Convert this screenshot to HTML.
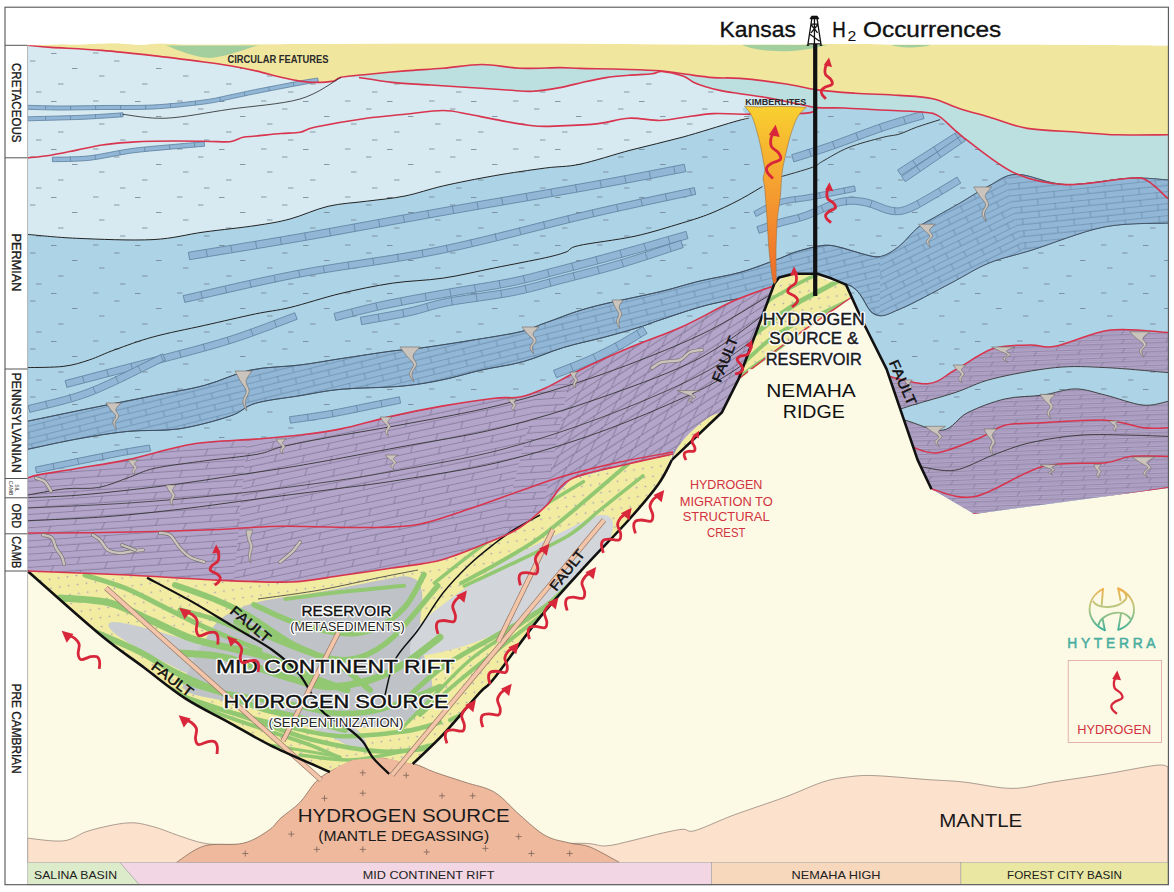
<!DOCTYPE html>
<html><head><meta charset="utf-8"><style>
html,body{margin:0;padding:0;width:1174px;height:892px;overflow:hidden;background:#fff}
text{font-family:"Liberation Sans",sans-serif}
</style></head><body>
<svg width="1174" height="892" viewBox="0 0 1174 892" style="position:absolute;left:0;top:0"><defs><clipPath id="sed"><path d="M27.6,45.3 C30.5,45.2 39.6,45.2 45.0,45.0 C50.4,44.8 54.2,44.3 60.0,44.2 C65.8,44.1 73.3,44.7 80.0,44.6 C86.7,44.5 94.2,43.8 100.0,43.6 C105.8,43.4 108.3,43.1 115.0,43.3 C121.7,43.5 132.5,44.8 140.0,44.8 C147.5,44.8 150.0,43.4 160.0,43.4 C170.0,43.4 176.7,44.5 200.0,44.6 C223.3,44.7 266.7,44.2 300.0,44.0 C333.3,43.8 366.7,43.6 400.0,43.5 C433.3,43.4 466.7,43.6 500.0,43.6 C533.3,43.6 566.7,43.6 600.0,43.8 C633.3,44.0 666.7,44.5 700.0,44.6 C733.3,44.7 775.0,44.5 800.0,44.4 C825.0,44.3 833.3,43.8 850.0,43.8 C866.7,43.8 875.0,44.5 900.0,44.6 C925.0,44.7 966.7,44.4 1000.0,44.5 C1033.3,44.6 1072.0,44.8 1100.0,45.0 C1128.0,45.2 1156.7,45.4 1168.0,45.5 L1168,487.9 L973.7,514 L931.5,489.2 L917.6,459.9 L886.6,369.2 L862.7,321.5 L846,284.6 L831.7,278.6 L817.4,273.8 L793.6,273.8 L779.2,277.4 L774.5,283.4 L760.2,321.5 L738.7,378.8 L722,412.2 L671.9,459.9 L673.0,454.0 L628.0,464.0 L571.0,479.0 L546.0,506.0 L520.0,527.5 L494.0,540.0 L443.0,559.4 L392.0,568.0 L341.0,575.5 L290.0,582.0 L204.0,579.5 L128.0,575.0 L27.6,571.0 Z"/></clipPath><clipPath id="diag"><path d="M27.6,45.3 C30.5,45.2 39.6,45.2 45.0,45.0 C50.4,44.8 54.2,44.3 60.0,44.2 C65.8,44.1 73.3,44.7 80.0,44.6 C86.7,44.5 94.2,43.8 100.0,43.6 C105.8,43.4 108.3,43.1 115.0,43.3 C121.7,43.5 132.5,44.8 140.0,44.8 C147.5,44.8 150.0,43.4 160.0,43.4 C170.0,43.4 176.7,44.5 200.0,44.6 C223.3,44.7 266.7,44.2 300.0,44.0 C333.3,43.8 366.7,43.6 400.0,43.5 C433.3,43.4 466.7,43.6 500.0,43.6 C533.3,43.6 566.7,43.6 600.0,43.8 C633.3,44.0 666.7,44.5 700.0,44.6 C733.3,44.7 775.0,44.5 800.0,44.4 C825.0,44.3 833.3,43.8 850.0,43.8 C866.7,43.8 875.0,44.5 900.0,44.6 C925.0,44.7 966.7,44.4 1000.0,44.5 C1033.3,44.6 1072.0,44.8 1100.0,45.0 C1128.0,45.2 1156.7,45.4 1168.0,45.5 L1168,862.5 L27.6,862.5 Z"/></clipPath></defs><rect x="0" y="0" width="1174" height="892" fill="#fff"/><g clip-path="url(#diag)"><rect x="27.6" y="40" width="1141" height="823" fill="#fcf9e5"/><path d="M27.6,838.2 C33.6,838.6 53.6,842.1 63.9,840.8 C74.2,839.5 78.8,833.6 89.4,830.6 C100.1,827.6 117.1,823.5 127.8,822.9 C138.4,822.2 144.8,824.6 153.3,826.7 C161.8,828.8 170.4,832.9 178.9,835.7 C187.4,838.5 195.9,841.8 204.4,843.3 C212.9,844.8 214.1,844.1 230.0,844.6 C245.9,845.1 271.7,845.8 300.0,846.0 C328.3,846.2 366.7,846.0 400.0,846.0 C433.3,846.0 470.0,846.5 500.0,846.0 C530.0,845.5 562.4,843.3 580.0,843.3 C597.6,843.3 597.1,846.3 605.6,845.9 C614.1,845.5 622.6,842.7 631.1,840.8 C639.6,838.9 648.2,836.3 656.7,834.4 C665.2,832.5 675.8,829.9 682.2,829.3 C688.6,828.7 686.5,833.0 695.0,830.6 C703.5,828.2 718.4,820.8 733.3,815.2 C748.2,809.7 769.6,802.8 784.5,797.3 C799.4,791.8 812.2,785.4 822.8,782.0 C833.4,778.6 839.8,778.0 848.3,776.9 C856.8,775.8 861.2,775.2 874.0,775.6 C886.8,776.0 910.2,778.3 925.1,779.4 C940.0,780.5 948.9,780.5 963.4,782.0 C977.9,783.5 997.1,788.4 1012.0,788.4 C1026.9,788.4 1037.6,784.4 1052.9,782.0 C1068.2,779.6 1087.0,777.1 1104.0,774.3 C1121.0,771.5 1144.4,766.7 1155.1,765.4 C1165.8,764.1 1165.8,766.5 1168.0,766.7 L1168.0,900 L27.6,900 Z" fill="#fce1cc" stroke="#8a7a70" stroke-width="0.7"/><path d="M176.3,862.5 C181.0,859.7 193.3,849.1 204.4,845.9 C215.5,842.7 232.2,845.8 242.8,843.3 C253.5,840.8 261.9,834.9 268.3,830.6 C274.7,826.4 275.8,822.5 281.1,817.8 C286.4,813.1 294.2,808.4 300.0,802.4 C305.8,796.4 310.3,787.4 315.6,782.0 C320.9,776.6 325.9,773.7 332.0,770.0 C338.1,766.3 343.9,761.8 352.4,759.7 C360.9,757.7 372.9,757.0 383.1,757.7 C393.3,758.4 405.3,761.4 413.8,763.8 C422.3,766.2 425.7,768.9 434.2,772.0 C442.7,775.1 454.8,778.8 464.9,782.2 C474.9,785.6 485.3,786.7 494.5,792.2 C503.7,797.7 511.5,808.0 520.0,815.2 C528.5,822.5 537.1,831.0 545.6,835.7 C554.1,840.4 563.7,841.4 571.1,843.3 C578.5,845.2 581.9,843.8 590.0,847.0 C598.1,850.2 614.7,859.9 619.6,862.5 Z" fill="#eeb99d" stroke="#7a6050" stroke-width="0.7"/><g clip-path="url(#sed)"><rect x="27" y="30" width="1142" height="600" fill="#f0e69e"/><path d="M27.6,45.3 C31.5,45.6 38.6,46.5 51.0,47.4 C63.4,48.2 85.0,49.0 102.0,50.4 C119.0,51.8 136.0,53.7 153.0,55.6 C170.0,57.5 191.2,60.3 204.0,62.0 C216.8,63.7 221.3,64.3 230.0,65.8 C238.7,67.3 247.5,69.0 256.0,70.9 C264.5,72.8 273.7,75.6 281.0,77.3 C288.3,79.0 294.2,80.2 300.0,81.1 C305.8,81.9 310.0,82.4 315.6,82.4 C321.2,82.4 329.2,81.9 333.4,81.1 C337.6,80.2 335.9,78.4 341.0,77.3 C346.1,76.2 353.3,75.8 364.0,74.7 C374.7,73.6 391.8,72.0 405.0,70.9 C418.2,69.8 430.2,69.4 443.0,68.3 C455.8,67.2 469.2,64.5 482.0,64.5 C494.8,64.5 507.0,67.8 520.0,68.3 C533.0,68.8 550.0,67.6 560.0,67.6 C570.0,67.6 569.8,68.1 580.0,68.4 C590.2,68.7 607.7,68.8 621.0,69.2 C634.3,69.6 649.7,69.9 660.0,70.7 C670.3,71.5 674.2,72.7 683.0,73.8 C691.8,74.9 703.5,76.8 713.0,77.6 C722.5,78.4 728.1,77.4 740.0,78.4 C751.9,79.4 771.7,81.8 784.5,83.7 C797.3,85.6 805.2,88.3 817.0,89.9 C828.8,91.5 841.3,92.3 855.0,93.2 C868.7,94.1 886.1,94.5 899.0,95.4 C911.9,96.3 922.4,96.5 932.6,98.7 C942.8,100.9 950.6,105.7 960.0,108.7 C969.4,111.7 977.8,113.6 989.0,116.9 C1000.2,120.2 1012.4,125.9 1027.3,128.4 C1042.2,130.9 1063.5,131.1 1078.4,132.2 C1093.3,133.3 1101.9,134.4 1116.8,134.8 C1131.7,135.2 1159.5,134.8 1168.0,134.8 L1168.0,900 L27.6,900 Z" fill="#bcdfe0"/><path d="M27.6,45.5 C31.5,45.9 38.6,46.8 51.0,47.6 C63.4,48.5 85.0,49.2 102.0,50.6 C119.0,52.0 136.0,53.9 153.0,55.8 C170.0,57.7 191.2,60.5 204.0,62.2 C216.8,63.9 221.3,64.5 230.0,66.0 C238.7,67.5 247.5,69.2 256.0,71.1 C264.5,73.0 273.7,75.8 281.0,77.5 C288.3,79.2 294.2,80.5 300.0,81.3 C305.8,82.1 310.0,82.6 315.6,82.6 C321.2,82.6 329.2,82.1 333.4,81.3 C337.6,80.5 336.7,78.1 341.0,77.5 C345.3,76.9 350.5,76.7 359.0,77.5 C367.5,78.3 380.1,81.2 392.0,82.4 C403.9,83.7 417.7,84.2 430.5,85.0 C443.3,85.8 456.2,86.7 469.0,87.5 C481.8,88.3 496.3,89.4 507.0,90.0 C517.7,90.6 524.2,91.7 533.0,91.3 C541.8,90.9 551.7,89.1 560.0,87.6 C568.3,86.1 575.3,83.9 583.0,82.2 C590.7,80.5 598.3,78.8 606.0,77.6 C613.7,76.4 621.3,75.9 629.0,75.3 C636.7,74.7 646.5,74.4 652.0,73.8 C657.5,73.2 656.8,71.1 662.0,71.5 C667.2,71.9 677.8,74.3 683.0,76.1 C688.2,77.9 689.6,80.4 693.4,82.2 C697.2,84.0 701.1,85.4 705.7,86.8 C710.3,88.2 715.3,89.4 721.0,90.6 C726.7,91.8 732.4,92.5 740.0,93.7 C747.6,94.9 756.4,95.8 766.4,97.6 C776.4,99.4 791.2,102.6 799.7,104.3 C808.2,106.0 810.0,107.0 817.4,107.6 C824.8,108.2 834.1,107.6 844.0,108.0 C853.9,108.4 864.1,109.1 877.0,109.8 C889.9,110.5 911.1,110.9 921.5,112.0 C931.9,113.1 932.2,112.2 939.2,116.4 C946.2,120.6 950.8,127.9 963.4,137.3 C976.0,146.8 997.5,165.2 1014.6,173.1 C1031.7,181.0 1046.5,183.8 1065.7,184.6 C1084.9,185.4 1116.0,178.8 1129.6,178.2 C1143.2,177.6 1141.0,177.4 1147.4,180.8 C1153.8,184.2 1164.6,195.7 1168.0,198.7 L1168.0,900 L27.6,900 Z" fill="#d7eaf2"/></g></g><defs><pattern id="brick" patternUnits="userSpaceOnUse" width="34" height="12" patternTransform="rotate(-14)"><rect width="34" height="12" fill="#92b6d6"/><path d="M0,0.3H34 M0,6.3H34 M8,0V6 M25,6V12" stroke="#5d7f9e" stroke-width="0.6" fill="none"/></pattern><pattern id="brickR" patternUnits="userSpaceOnUse" width="34" height="12" patternTransform="rotate(-26)"><rect width="34" height="12" fill="#92b6d6"/><path d="M0,0.3H34 M0,6.3H34 M8,0V6 M25,6V12" stroke="#5d7f9e" stroke-width="0.6" fill="none"/></pattern><pattern id="pbrickA" patternUnits="userSpaceOnUse" width="54" height="13.2" patternTransform="rotate(-4)"><rect width="54" height="13.2" fill="#b3a5c9"/><path d="M0,0.3H54 M0,6.8999999999999995H54 M14,0.3L10.5,6.8999999999999995 M41.0,6.8999999999999995L37.5,13.5" stroke="#6b6180" stroke-width="0.6" fill="none"/></pattern><pattern id="pbrickB" patternUnits="userSpaceOnUse" width="54" height="13.2" patternTransform="rotate(-12)"><rect width="54" height="13.2" fill="#b3a5c9"/><path d="M0,0.3H54 M0,6.8999999999999995H54 M14,0.3L10.5,6.8999999999999995 M41.0,6.8999999999999995L37.5,13.5" stroke="#6b6180" stroke-width="0.6" fill="none"/></pattern><pattern id="pbrickC" patternUnits="userSpaceOnUse" width="26" height="14" patternTransform="rotate(-33)"><rect width="26" height="14" fill="#b3a5c9"/><path d="M0,0.3H26 M0,7.3H26 M2,7.3L13.2,0.3 M15,14.3L26.2,7.3 M-11,14.3L0.2,7.3" stroke="#5f5672" stroke-width="0.55" fill="none"/></pattern><pattern id="pbrickH" patternUnits="userSpaceOnUse" width="44" height="9" patternTransform="rotate(-2)"><rect width="44" height="9" fill="#b3a5c9"/><path d="M0,0.3H44 M0,4.8H44" stroke="#6b6180" stroke-width="0.55" fill="none"/><path d="M0,2.55H44 M0,7.05H44" stroke="#8a80a0" stroke-width="0.4" fill="none"/><path d="M12,0.3L9,4.8 M34,4.8L31,9.3" stroke="#6b6180" stroke-width="0.55" fill="none"/></pattern><pattern id="dots" patternUnits="userSpaceOnUse" width="9" height="9" patternTransform="rotate(-8)"><rect width="9" height="9" fill="#f1eca2"/><circle cx="4.5" cy="4.5" r="0.85" fill="#a39db8"/></pattern><pattern id="dash" patternUnits="userSpaceOnUse" width="84" height="48" patternTransform="translate(3,1)"><path d="M6,4h5.5M48,4.5h5.5M27,12h5.5M69,19.5h5.5M12,27h5.5M55,35h5.5M33,43h5.5" stroke="#6d7d8a" stroke-width="0.95" opacity="0.8"/></pattern><linearGradient id="kimb" x1="0" y1="0" x2="0" y2="1"><stop offset="0" stop-color="#f8d030"/><stop offset="0.45" stop-color="#f5a030"/><stop offset="1" stop-color="#ee6a2a"/></linearGradient><linearGradient id="greyg" x1="0" y1="0" x2="1" y2="1"><stop offset="0" stop-color="#d8dce0"/><stop offset="1" stop-color="#b9bcc0"/></linearGradient><clipPath id="zB"><path d="M260,300 L560,300 L480,620 L230,620 Z"/></clipPath><clipPath id="zC"><path d="M590,280 L800,280 L700,620 L520,620 Z"/></clipPath><clipPath id="zR1"><path d="M880,150 L1000,150 L1040,330 L880,330 Z"/></clipPath><clipPath id="zR2"><path d="M1000,150 L1170,150 L1170,330 L1040,330 Z"/></clipPath><pattern id="brickR2" patternUnits="userSpaceOnUse" width="34" height="12" patternTransform="rotate(-6)"><rect width="34" height="12" fill="#92b6d6"/><path d="M0,0.3H34 M0,6.3H34 M8,0V6 M25,6V12" stroke="#5d7f9e" stroke-width="0.6" fill="none"/></pattern></defs><g clip-path="url(#diag)"><g clip-path="url(#sed)"><path d="M27.6,234.4 C35.8,235.1 55.8,237.4 76.7,238.3 C97.6,239.2 131.8,240.7 153.0,239.6 C174.2,238.5 186.8,234.3 204.0,232.0 C221.2,229.7 241.7,227.7 256.0,225.5 C270.3,223.3 278.0,222.2 290.0,219.0 C302.0,215.8 315.2,209.3 328.0,206.3 C340.8,203.3 353.9,202.9 366.7,201.2 C379.5,199.5 392.2,198.6 405.0,196.0 C417.8,193.4 428.4,189.3 443.3,185.9 C458.2,182.5 477.4,178.7 494.5,175.7 C511.6,172.7 531.4,169.9 545.6,168.0 C559.9,166.1 565.8,167.2 580.0,164.2 C594.2,161.2 614.0,154.5 631.0,150.0 C648.0,145.5 665.0,142.0 682.0,137.3 C699.0,132.6 722.2,125.2 733.3,122.0 C744.4,118.8 746.6,120.7 748.7,118.2 C750.8,115.7 736.5,108.9 746.0,107.0 C755.5,105.1 794.1,106.9 806.0,107.0 C817.9,107.1 811.1,107.4 817.4,107.6 C823.7,107.8 834.1,107.6 844.0,108.0 C853.9,108.4 864.1,109.1 877.0,109.8 C889.9,110.5 911.1,110.9 921.5,112.0 C931.9,113.1 932.2,112.2 939.2,116.4 C946.2,120.6 950.8,127.9 963.4,137.3 C976.0,146.8 997.5,165.2 1014.6,173.1 C1031.7,181.0 1046.5,183.8 1065.7,184.6 C1084.9,185.4 1116.0,178.8 1129.6,178.2 C1143.2,177.6 1141.0,177.4 1147.4,180.8 C1153.8,184.2 1164.6,195.7 1168.0,198.7 L1168.0,900 L27.6,900 Z" fill="#add3e6"/><path d="M27.6,45.5 C31.5,45.9 38.6,46.8 51.0,47.6 C63.4,48.5 85.0,49.2 102.0,50.6 C119.0,52.0 136.0,53.9 153.0,55.8 C170.0,57.7 191.2,60.5 204.0,62.2 C216.8,63.9 221.3,64.5 230.0,66.0 C238.7,67.5 247.5,69.2 256.0,71.1 C264.5,73.0 273.7,75.8 281.0,77.5 C288.3,79.2 294.2,80.5 300.0,81.3 C305.8,82.1 310.0,82.6 315.6,82.6 C321.2,82.6 329.2,82.1 333.4,81.3 C337.6,80.5 336.7,78.1 341.0,77.5 C345.3,76.9 350.5,76.7 359.0,77.5 C367.5,78.3 380.1,81.2 392.0,82.4 C403.9,83.7 417.7,84.2 430.5,85.0 C443.3,85.8 456.2,86.7 469.0,87.5 C481.8,88.3 496.3,89.4 507.0,90.0 C517.7,90.6 524.2,91.7 533.0,91.3 C541.8,90.9 551.7,89.1 560.0,87.6 C568.3,86.1 575.3,83.9 583.0,82.2 C590.7,80.5 598.3,78.8 606.0,77.6 C613.7,76.4 621.3,75.9 629.0,75.3 C636.7,74.7 646.5,74.4 652.0,73.8 C657.5,73.2 656.8,71.1 662.0,71.5 C667.2,71.9 677.8,74.3 683.0,76.1 C688.2,77.9 689.6,80.4 693.4,82.2 C697.2,84.0 701.1,85.4 705.7,86.8 C710.3,88.2 715.3,89.4 721.0,90.6 C726.7,91.8 732.4,92.5 740.0,93.7 C747.6,94.9 756.4,95.8 766.4,97.6 C776.4,99.4 791.2,102.6 799.7,104.3 C808.2,106.0 810.0,107.0 817.4,107.6 C824.8,108.2 834.1,107.6 844.0,108.0 C853.9,108.4 864.1,109.1 877.0,109.8 C889.9,110.5 911.1,110.9 921.5,112.0 C931.9,113.1 932.2,112.2 939.2,116.4 C946.2,120.6 950.8,127.9 963.4,137.3 C976.0,146.8 997.5,165.2 1014.6,173.1 C1031.7,181.0 1046.5,183.8 1065.7,184.6 C1084.9,185.4 1116.0,178.8 1129.6,178.2 C1143.2,177.6 1141.0,177.4 1147.4,180.8 C1153.8,184.2 1164.6,195.7 1168.0,198.7 L1168.0,900 L27.6,900 Z" fill="url(#dash)"/><path d="M166,45.5 L258,45.5 C242,50 226,57 210,58 C194,57 180,51 166,45.5 Z" fill="#a3cf9e"/><path d="M742,44.5 C752,51 790,55.5 827,45 Z" fill="#a3cf9e"/><path d="M890.8,44.8 C900,48.5 920,48.5 931.7,44.8 Z" fill="#a3cf9e"/><path d="M27.6,421.2 C35.8,419.5 62.1,414.0 76.7,411.0 C91.3,408.0 102.2,405.9 115.0,403.3 C127.8,400.8 138.4,398.7 153.3,395.7 C168.2,392.7 188.2,389.7 204.4,385.4 C220.6,381.1 234.5,373.5 250.4,370.1 C266.3,366.7 284.9,366.9 300.0,365.0 C315.1,363.1 325.6,360.9 341.0,358.6 C356.4,356.3 379.4,352.7 392.2,351.0 C405.0,349.3 405.0,350.1 417.8,348.4 C430.6,346.7 451.9,343.5 468.9,340.7 C485.9,337.9 507.2,334.8 520.0,331.8 C532.8,328.8 533.9,326.9 545.6,322.8 C557.3,318.8 570.9,312.7 590.0,307.5 C609.1,302.3 641.7,296.1 660.0,291.7 C678.3,287.3 686.7,284.2 700.0,281.0 C713.3,277.8 727.1,276.0 740.0,272.4 C752.9,268.8 768.1,262.7 777.5,259.3 C786.9,255.9 788.4,254.1 796.2,251.8 C804.0,249.5 816.5,245.9 824.3,245.3 C832.1,244.7 836.9,246.7 843.1,248.1 C849.4,249.5 855.5,252.3 861.8,253.7 C868.0,255.1 874.4,257.8 880.6,256.5 C886.9,255.2 893.1,251.0 899.3,246.2 C905.5,241.4 911.8,232.5 918.0,227.5 C924.2,222.5 929.8,220.3 936.8,216.2 C943.8,212.1 951.3,208.1 960.0,203.1 C968.7,198.1 979.5,190.7 989.0,185.9 C998.5,181.1 1004.2,174.6 1017.0,174.4 C1029.8,174.2 1046.9,184.0 1065.7,184.6 C1084.5,185.2 1112.5,179.0 1129.6,178.2 C1146.6,177.4 1161.6,179.7 1168.0,180.0 L1168.0,223.0 C1157.3,223.7 1126.7,222.5 1104.0,227.0 C1081.3,231.5 1051.2,244.0 1032.0,250.0 C1012.8,256.0 1002.5,257.5 989.0,263.0 C975.5,268.5 965.8,275.3 951.0,283.0 C936.2,290.7 912.8,303.8 900.0,309.0 C887.2,314.2 883.0,318.2 874.0,314.0 C865.0,309.8 863.0,288.3 846.0,284.0 C829.0,279.7 787.1,286.3 772.0,288.2 C756.9,290.1 766.1,292.5 755.4,295.3 C744.7,298.1 723.6,300.8 707.7,304.9 C691.8,309.0 671.3,316.3 660.0,320.0 C648.7,323.7 649.3,324.1 640.0,327.0 C630.7,329.9 617.1,333.8 604.4,337.2 C591.6,340.6 577.1,343.4 563.5,347.5 C549.9,351.6 536.2,358.1 522.6,361.8 C509.0,365.6 495.4,366.9 481.8,370.0 C468.2,373.1 454.5,377.5 440.9,380.2 C427.3,382.9 416.6,384.8 400.0,386.3 C383.4,387.8 357.7,387.7 341.0,389.3 C324.3,390.9 314.2,393.4 300.0,395.7 C285.8,398.0 267.2,399.9 255.5,403.3 C243.8,406.7 242.8,411.8 230.0,416.1 C217.2,420.4 195.9,426.3 178.9,428.9 C161.9,431.4 144.8,429.7 127.8,431.4 C110.8,433.1 93.4,436.1 76.7,439.1 C60.0,442.1 35.8,447.6 27.6,449.3 Z" fill="url(#brick)" stroke="#3a4a5a" stroke-width="0.8"/><path d="M27.6,421.2 C35.8,419.5 62.1,414.0 76.7,411.0 C91.3,408.0 102.2,405.9 115.0,403.3 C127.8,400.8 138.4,398.7 153.3,395.7 C168.2,392.7 188.2,389.7 204.4,385.4 C220.6,381.1 234.5,373.5 250.4,370.1 C266.3,366.7 284.9,366.9 300.0,365.0 C315.1,363.1 325.6,360.9 341.0,358.6 C356.4,356.3 379.4,352.7 392.2,351.0 C405.0,349.3 405.0,350.1 417.8,348.4 C430.6,346.7 451.9,343.5 468.9,340.7 C485.9,337.9 507.2,334.8 520.0,331.8 C532.8,328.8 533.9,326.9 545.6,322.8 C557.3,318.8 570.9,312.7 590.0,307.5 C609.1,302.3 641.7,296.1 660.0,291.7 C678.3,287.3 686.7,284.2 700.0,281.0 C713.3,277.8 727.1,276.0 740.0,272.4 C752.9,268.8 768.1,262.7 777.5,259.3 C786.9,255.9 788.4,254.1 796.2,251.8 C804.0,249.5 816.5,245.9 824.3,245.3 C832.1,244.7 836.9,246.7 843.1,248.1 C849.4,249.5 855.5,252.3 861.8,253.7 C868.0,255.1 874.4,257.8 880.6,256.5 C886.9,255.2 893.1,251.0 899.3,246.2 C905.5,241.4 911.8,232.5 918.0,227.5 C924.2,222.5 929.8,220.3 936.8,216.2 C943.8,212.1 951.3,208.1 960.0,203.1 C968.7,198.1 979.5,190.7 989.0,185.9 C998.5,181.1 1004.2,174.6 1017.0,174.4 C1029.8,174.2 1046.9,184.0 1065.7,184.6 C1084.5,185.2 1112.5,179.0 1129.6,178.2 C1146.6,177.4 1161.6,179.7 1168.0,180.0 L1168.0,223.0 C1157.3,223.7 1126.7,222.5 1104.0,227.0 C1081.3,231.5 1051.2,244.0 1032.0,250.0 C1012.8,256.0 1002.5,257.5 989.0,263.0 C975.5,268.5 965.8,275.3 951.0,283.0 C936.2,290.7 912.8,303.8 900.0,309.0 C887.2,314.2 883.0,318.2 874.0,314.0 C865.0,309.8 863.0,288.3 846.0,284.0 C829.0,279.7 787.1,286.3 772.0,288.2 C756.9,290.1 766.1,292.5 755.4,295.3 C744.7,298.1 723.6,300.8 707.7,304.9 C691.8,309.0 671.3,316.3 660.0,320.0 C648.7,323.7 649.3,324.1 640.0,327.0 C630.7,329.9 617.1,333.8 604.4,337.2 C591.6,340.6 577.1,343.4 563.5,347.5 C549.9,351.6 536.2,358.1 522.6,361.8 C509.0,365.6 495.4,366.9 481.8,370.0 C468.2,373.1 454.5,377.5 440.9,380.2 C427.3,382.9 416.6,384.8 400.0,386.3 C383.4,387.8 357.7,387.7 341.0,389.3 C324.3,390.9 314.2,393.4 300.0,395.7 C285.8,398.0 267.2,399.9 255.5,403.3 C243.8,406.7 242.8,411.8 230.0,416.1 C217.2,420.4 195.9,426.3 178.9,428.9 C161.9,431.4 144.8,429.7 127.8,431.4 C110.8,433.1 93.4,436.1 76.7,439.1 C60.0,442.1 35.8,447.6 27.6,449.3 Z" fill="url(#brickR)" clip-path="url(#zR1)"/><path d="M27.6,421.2 C35.8,419.5 62.1,414.0 76.7,411.0 C91.3,408.0 102.2,405.9 115.0,403.3 C127.8,400.8 138.4,398.7 153.3,395.7 C168.2,392.7 188.2,389.7 204.4,385.4 C220.6,381.1 234.5,373.5 250.4,370.1 C266.3,366.7 284.9,366.9 300.0,365.0 C315.1,363.1 325.6,360.9 341.0,358.6 C356.4,356.3 379.4,352.7 392.2,351.0 C405.0,349.3 405.0,350.1 417.8,348.4 C430.6,346.7 451.9,343.5 468.9,340.7 C485.9,337.9 507.2,334.8 520.0,331.8 C532.8,328.8 533.9,326.9 545.6,322.8 C557.3,318.8 570.9,312.7 590.0,307.5 C609.1,302.3 641.7,296.1 660.0,291.7 C678.3,287.3 686.7,284.2 700.0,281.0 C713.3,277.8 727.1,276.0 740.0,272.4 C752.9,268.8 768.1,262.7 777.5,259.3 C786.9,255.9 788.4,254.1 796.2,251.8 C804.0,249.5 816.5,245.9 824.3,245.3 C832.1,244.7 836.9,246.7 843.1,248.1 C849.4,249.5 855.5,252.3 861.8,253.7 C868.0,255.1 874.4,257.8 880.6,256.5 C886.9,255.2 893.1,251.0 899.3,246.2 C905.5,241.4 911.8,232.5 918.0,227.5 C924.2,222.5 929.8,220.3 936.8,216.2 C943.8,212.1 951.3,208.1 960.0,203.1 C968.7,198.1 979.5,190.7 989.0,185.9 C998.5,181.1 1004.2,174.6 1017.0,174.4 C1029.8,174.2 1046.9,184.0 1065.7,184.6 C1084.5,185.2 1112.5,179.0 1129.6,178.2 C1146.6,177.4 1161.6,179.7 1168.0,180.0 L1168.0,223.0 C1157.3,223.7 1126.7,222.5 1104.0,227.0 C1081.3,231.5 1051.2,244.0 1032.0,250.0 C1012.8,256.0 1002.5,257.5 989.0,263.0 C975.5,268.5 965.8,275.3 951.0,283.0 C936.2,290.7 912.8,303.8 900.0,309.0 C887.2,314.2 883.0,318.2 874.0,314.0 C865.0,309.8 863.0,288.3 846.0,284.0 C829.0,279.7 787.1,286.3 772.0,288.2 C756.9,290.1 766.1,292.5 755.4,295.3 C744.7,298.1 723.6,300.8 707.7,304.9 C691.8,309.0 671.3,316.3 660.0,320.0 C648.7,323.7 649.3,324.1 640.0,327.0 C630.7,329.9 617.1,333.8 604.4,337.2 C591.6,340.6 577.1,343.4 563.5,347.5 C549.9,351.6 536.2,358.1 522.6,361.8 C509.0,365.6 495.4,366.9 481.8,370.0 C468.2,373.1 454.5,377.5 440.9,380.2 C427.3,382.9 416.6,384.8 400.0,386.3 C383.4,387.8 357.7,387.7 341.0,389.3 C324.3,390.9 314.2,393.4 300.0,395.7 C285.8,398.0 267.2,399.9 255.5,403.3 C243.8,406.7 242.8,411.8 230.0,416.1 C217.2,420.4 195.9,426.3 178.9,428.9 C161.9,431.4 144.8,429.7 127.8,431.4 C110.8,433.1 93.4,436.1 76.7,439.1 C60.0,442.1 35.8,447.6 27.6,449.3 Z" fill="url(#brickR2)" clip-path="url(#zR2)"/><path d="M27.6,421.2 C35.8,419.5 62.1,414.0 76.7,411.0 C91.3,408.0 102.2,405.9 115.0,403.3 C127.8,400.8 138.4,398.7 153.3,395.7 C168.2,392.7 188.2,389.7 204.4,385.4 C220.6,381.1 234.5,373.5 250.4,370.1 C266.3,366.7 284.9,366.9 300.0,365.0 C315.1,363.1 325.6,360.9 341.0,358.6 C356.4,356.3 379.4,352.7 392.2,351.0 C405.0,349.3 405.0,350.1 417.8,348.4 C430.6,346.7 451.9,343.5 468.9,340.7 C485.9,337.9 507.2,334.8 520.0,331.8 C532.8,328.8 533.9,326.9 545.6,322.8 C557.3,318.8 570.9,312.7 590.0,307.5 C609.1,302.3 641.7,296.1 660.0,291.7 C678.3,287.3 686.7,284.2 700.0,281.0 C713.3,277.8 727.1,276.0 740.0,272.4 C752.9,268.8 768.1,262.7 777.5,259.3 C786.9,255.9 788.4,254.1 796.2,251.8 C804.0,249.5 816.5,245.9 824.3,245.3 C832.1,244.7 836.9,246.7 843.1,248.1 C849.4,249.5 855.5,252.3 861.8,253.7 C868.0,255.1 874.4,257.8 880.6,256.5 C886.9,255.2 893.1,251.0 899.3,246.2 C905.5,241.4 911.8,232.5 918.0,227.5 C924.2,222.5 929.8,220.3 936.8,216.2 C943.8,212.1 951.3,208.1 960.0,203.1 C968.7,198.1 979.5,190.7 989.0,185.9 C998.5,181.1 1004.2,174.6 1017.0,174.4 C1029.8,174.2 1046.9,184.0 1065.7,184.6 C1084.5,185.2 1112.5,179.0 1129.6,178.2 C1146.6,177.4 1161.6,179.7 1168.0,180.0" fill="none" stroke="#3a4a5a" stroke-width="0.8"/><path d="M27.6,449.3 C35.8,447.6 60.0,442.1 76.7,439.1 C93.4,436.1 110.8,433.1 127.8,431.4 C144.8,429.7 161.9,431.4 178.9,428.9 C195.9,426.3 217.2,420.4 230.0,416.1 C242.8,411.8 243.8,406.7 255.5,403.3 C267.2,399.9 285.8,398.0 300.0,395.7 C314.2,393.4 324.3,390.9 341.0,389.3 C357.7,387.7 383.4,387.8 400.0,386.3 C416.6,384.8 427.3,382.9 440.9,380.2 C454.5,377.5 468.2,373.1 481.8,370.0 C495.4,366.9 509.0,365.6 522.6,361.8 C536.2,358.1 549.9,351.6 563.5,347.5 C577.1,343.4 591.6,340.6 604.4,337.2 C617.1,333.8 630.7,329.9 640.0,327.0 C649.3,324.1 648.7,323.7 660.0,320.0 C671.3,316.3 691.8,309.0 707.7,304.9 C723.6,300.8 744.7,298.1 755.4,295.3 C766.1,292.5 756.9,290.1 772.0,288.2 C787.1,286.3 829.0,279.7 846.0,284.0 C863.0,288.3 865.0,309.8 874.0,314.0 C883.0,318.2 887.2,314.2 900.0,309.0 C912.8,303.8 936.2,290.7 951.0,283.0 C965.8,275.3 975.5,268.5 989.0,263.0 C1002.5,257.5 1012.8,256.0 1032.0,250.0 C1051.2,244.0 1081.3,231.5 1104.0,227.0 C1126.7,222.5 1157.3,223.7 1168.0,223.0" fill="none" stroke="#3a4a5a" stroke-width="0.8"/><path d="M27.6,478.0 C29.4,477.5 30.1,476.5 38.3,474.9 C46.5,473.3 61.8,471.1 76.7,468.5 C91.6,465.9 108.6,463.7 127.8,459.6 C147.0,455.6 170.4,447.6 191.7,444.2 C213.0,440.8 237.4,440.6 255.5,439.1 C273.6,437.6 285.8,436.7 300.0,435.0 C314.2,433.3 325.6,432.0 341.0,428.9 C356.4,425.8 375.1,419.9 392.2,416.1 C409.2,412.3 426.2,408.9 443.3,405.9 C460.4,402.9 481.7,399.7 494.5,398.2 C507.3,396.7 511.5,398.7 520.0,397.0 C528.5,395.3 535.6,392.5 545.6,388.0 C555.6,383.5 565.8,376.8 580.0,370.0 C594.2,363.2 614.0,354.3 631.0,347.1 C648.0,339.9 665.2,334.4 682.2,326.7 C699.2,319.0 718.0,307.9 733.3,301.1 C748.6,294.3 767.4,288.4 774.2,285.8 L774.2,900 L27.6,900 Z" fill="url(#pbrickA)"/><path d="M27.6,478.0 C29.4,477.5 30.1,476.5 38.3,474.9 C46.5,473.3 61.8,471.1 76.7,468.5 C91.6,465.9 108.6,463.7 127.8,459.6 C147.0,455.6 170.4,447.6 191.7,444.2 C213.0,440.8 237.4,440.6 255.5,439.1 C273.6,437.6 285.8,436.7 300.0,435.0 C314.2,433.3 325.6,432.0 341.0,428.9 C356.4,425.8 375.1,419.9 392.2,416.1 C409.2,412.3 426.2,408.9 443.3,405.9 C460.4,402.9 481.7,399.7 494.5,398.2 C507.3,396.7 511.5,398.7 520.0,397.0 C528.5,395.3 535.6,392.5 545.6,388.0 C555.6,383.5 565.8,376.8 580.0,370.0 C594.2,363.2 614.0,354.3 631.0,347.1 C648.0,339.9 665.2,334.4 682.2,326.7 C699.2,319.0 718.0,307.9 733.3,301.1 C748.6,294.3 767.4,288.4 774.2,285.8 L774.2,900 L27.6,900 Z" fill="url(#pbrickB)" clip-path="url(#zB)"/><path d="M27.6,478.0 C29.4,477.5 30.1,476.5 38.3,474.9 C46.5,473.3 61.8,471.1 76.7,468.5 C91.6,465.9 108.6,463.7 127.8,459.6 C147.0,455.6 170.4,447.6 191.7,444.2 C213.0,440.8 237.4,440.6 255.5,439.1 C273.6,437.6 285.8,436.7 300.0,435.0 C314.2,433.3 325.6,432.0 341.0,428.9 C356.4,425.8 375.1,419.9 392.2,416.1 C409.2,412.3 426.2,408.9 443.3,405.9 C460.4,402.9 481.7,399.7 494.5,398.2 C507.3,396.7 511.5,398.7 520.0,397.0 C528.5,395.3 535.6,392.5 545.6,388.0 C555.6,383.5 565.8,376.8 580.0,370.0 C594.2,363.2 614.0,354.3 631.0,347.1 C648.0,339.9 665.2,334.4 682.2,326.7 C699.2,319.0 718.0,307.9 733.3,301.1 C748.6,294.3 767.4,288.4 774.2,285.8 L774.2,900 L27.6,900 Z" fill="url(#pbrickC)" clip-path="url(#zC)"/><path d="M27,560 L600,500 L27,520 Z" fill="none"/><path d="M880.0,370.0 C880.8,370.8 877.1,372.7 885.0,375.0 C892.9,377.3 915.9,384.6 927.6,383.8 C939.3,383.0 944.2,375.8 955.1,370.0 C966.0,364.2 980.2,353.0 992.7,348.8 C1005.2,344.6 1019.9,345.4 1030.3,345.0 C1040.7,344.6 1041.9,348.8 1055.3,346.3 C1068.7,343.8 1091.6,332.3 1110.4,330.0 C1129.2,327.7 1158.4,332.1 1168.0,332.5 L1168.0,372.6 C1157.6,371.8 1124.2,368.4 1105.4,367.6 C1086.6,366.8 1074.1,365.7 1055.3,367.6 C1036.5,369.5 1009.4,374.6 992.7,378.8 C976.0,383.0 968.5,388.2 955.1,392.6 C941.8,397.0 925.1,401.2 912.6,405.1 C900.1,409.0 885.4,414.2 880.0,416.0 Z" fill="url(#pbrickH)"/><path d="M880.0,415.0 C884.2,415.9 894.6,417.7 905.0,420.2 C915.4,422.7 932.1,431.5 942.6,430.2 C953.1,428.9 957.3,417.8 967.7,412.6 C978.1,407.4 992.7,401.8 1005.2,398.9 C1017.7,396.0 1031.1,396.8 1042.8,395.1 C1054.5,393.4 1064.9,388.9 1075.3,388.9 C1085.7,388.9 1094.1,392.4 1105.4,395.1 C1116.7,397.8 1132.6,404.1 1143.0,405.1 C1153.4,406.2 1163.8,402.0 1168.0,401.4 L1168.0,900 L880.0,900 Z" fill="url(#pbrickH)"/></g><path d="M671.9,459.9 L722.0,412.2 L738.7,378.8 L760.2,321.5 L774.5,283.4 L779.2,277.4 L793.6,273.8 L817.4,273.8 L831.7,278.6 L846.0,284.6 L862.7,321.5 L886.6,369.2 L917.6,459.9 L931.5,489.2 L973.9,514.0 Z" fill="#fcf9e5"/><clipPath id="capc"><path d="M738.4,379.9 L760.2,321.5 L774.8,284.6 L786.0,275.5 L795.8,274.1 L814.0,274.1 L828.0,280.4 L844.9,283.9 L850.5,298.0 Z"/></clipPath><path d="M738.4,379.9 L760.2,321.5 L774.8,284.6 L786.0,275.5 L795.8,274.1 L814.0,274.1 L828.0,280.4 L844.9,283.9 L850.5,298.0 Z" fill="url(#dots)"/><g clip-path="url(#capc)" fill="none" stroke="#93c872" stroke-linecap="round"><path d="M765.0,305.0 C766.2,303.9 768.0,301.3 772.0,298.6 C776.0,295.9 782.7,292.2 788.8,288.8 C794.9,285.4 803.0,280.9 808.5,278.3 C814.0,275.7 819.8,273.9 822.0,273.0" stroke-width="3.5"/><path d="M750.0,338.0 C751.8,336.6 756.0,333.2 760.8,329.4 C765.6,325.6 772.5,320.1 779.0,315.4 C785.5,310.7 793.0,305.6 800.0,301.4 C807.0,297.2 814.3,293.8 821.0,290.2 C827.7,286.6 836.8,281.7 840.0,280.0" stroke-width="5"/><path d="M742.0,365.0 C743.5,363.5 746.0,360.5 751.0,356.0 C756.0,351.5 765.0,343.0 772.0,337.9 C779.0,332.8 786.0,328.7 793.0,325.2 C800.0,321.7 804.8,320.8 814.0,316.8 C823.2,312.8 842.3,303.6 848.0,301.0" stroke-width="4"/><path d="M738.0,380.0 C738.5,379.3 737.9,378.5 741.2,375.7 C744.5,372.9 751.7,367.4 758.0,363.0 C764.3,358.6 772.8,353.2 779.0,349.0 C785.2,344.8 792.3,339.8 795.0,338.0" stroke-width="3"/></g><path d="M671.9,459.9 C676,446 690,431 705,420 C712,415 718,413 722,412.2 Z" fill="url(#dots)"/></g><g clip-path="url(#diag)"><clipPath id="wedge"><path d="M27.6,571.0 L128.0,575.0 L204.0,579.5 L290.0,582.0 L341.0,575.5 L392.0,568.0 L443.0,559.4 L494.0,540.0 L520.0,527.5 L546.0,506.0 L571.0,479.0 L628.0,464.0 L673.0,454.0 L658.0,484.7 L628.2,520.5 L583.4,568.2 L538.7,618.9 L494.0,678.5 L480.0,692.3 L444.4,733.1 L412.7,764.0 L383.1,757.7 L352.4,759.7 L332.0,770.0 L329.9,772.0 L270.4,745.3 L227.8,721.8 L185.2,698.4 L142.6,666.5 L100.0,634.5 Z"/></clipPath><g clip-path="url(#wedge)"><path d="M27.6,571.0 L128.0,575.0 L204.0,579.5 L290.0,582.0 L341.0,575.5 L392.0,568.0 L443.0,559.4 L494.0,540.0 L520.0,527.5 L546.0,506.0 L571.0,479.0 L628.0,464.0 L673.0,454.0 L658.0,484.7 L628.2,520.5 L583.4,568.2 L538.7,618.9 L494.0,678.5 L480.0,692.3 L444.4,733.1 L412.7,764.0 L383.1,757.7 L352.4,759.7 L332.0,770.0 L329.9,772.0 L270.4,745.3 L227.8,721.8 L185.2,698.4 L142.6,666.5 L100.0,634.5 Z" fill="url(#dots)"/><path d="M115.0,622.0 C125.3,622.3 157.5,631.0 180.0,638.0 C202.5,645.0 226.7,653.7 250.0,664.0 C273.3,674.3 301.3,688.2 320.0,700.0 C338.7,711.8 355.3,726.7 362.0,735.0 C368.7,743.3 367.0,750.5 360.0,750.0 C353.0,749.5 338.3,740.0 320.0,732.0 C301.7,724.0 273.3,712.3 250.0,702.0 C226.7,691.7 202.0,681.0 180.0,670.0 C158.0,659.0 128.8,644.0 118.0,636.0 C107.2,628.0 104.7,621.7 115.0,622.0 Z" fill="#c9ccd0"/><path d="M222.0,618.0 C230.8,611.7 241.7,606.3 258.0,602.0 C274.3,597.7 299.3,595.7 320.0,592.0 C340.7,588.3 367.0,582.5 382.0,580.0 C397.0,577.5 403.3,575.0 410.0,577.0 C416.7,579.0 420.3,581.5 422.0,592.0 C423.7,602.5 418.3,623.7 420.0,640.0 C421.7,656.3 434.7,676.3 432.0,690.0 C429.3,703.7 419.3,715.8 404.0,722.0 C388.7,728.2 359.0,728.0 340.0,727.0 C321.0,726.0 308.3,720.2 290.0,716.0 C271.7,711.8 247.5,706.3 230.0,702.0 C212.5,697.7 191.3,696.3 185.0,690.0 C178.7,683.7 188.7,672.3 192.0,664.0 C195.3,655.7 200.0,647.7 205.0,640.0 C210.0,632.3 213.2,624.3 222.0,618.0 Z" fill="#bfc2c6"/><path d="M601.0,515.0 C593.5,515.5 583.3,521.7 568.0,529.0 C552.7,536.3 526.3,549.0 509.0,559.0 C491.7,569.0 479.0,578.0 464.0,589.0 C449.0,600.0 428.0,614.5 419.0,625.0 C410.0,635.5 410.0,646.8 410.0,652.0 C410.0,657.2 410.0,657.0 419.0,656.0 C428.0,655.0 449.0,650.7 464.0,646.0 C479.0,641.3 494.0,635.0 509.0,628.0 C524.0,621.0 539.2,614.5 554.0,604.0 C568.8,593.5 588.2,578.0 598.0,565.0 C607.8,552.0 612.5,534.3 613.0,526.0 C613.5,517.7 608.5,514.5 601.0,515.0 Z" fill="#d2d6da"/><path d="M85.0,575.0 C91.7,577.2 112.5,583.0 125.0,588.0 C137.5,593.0 147.5,598.8 160.0,605.0 C172.5,611.2 187.5,619.2 200.0,625.0 C212.5,630.8 225.0,635.8 235.0,640.0 C245.0,644.2 255.8,648.3 260.0,650.0" fill="none" stroke="#93c872" stroke-width="5" stroke-linecap="round"/><path d="M60.0,598.0 C68.3,598.8 95.0,599.3 110.0,603.0 C125.0,606.7 136.7,614.2 150.0,620.0 C163.3,625.8 176.7,633.3 190.0,638.0 C203.3,642.7 216.7,644.7 230.0,648.0 C243.3,651.3 256.7,653.2 270.0,658.0 C283.3,662.8 297.2,671.7 310.0,677.0 C322.8,682.3 340.8,687.8 347.0,690.0" fill="none" stroke="#93c872" stroke-width="7" stroke-linecap="round"/><path d="M95.0,632.0 C102.5,635.3 126.7,645.3 140.0,652.0 C153.3,658.7 161.7,665.3 175.0,672.0 C188.3,678.7 205.8,686.0 220.0,692.0 C234.2,698.0 246.7,703.7 260.0,708.0 C273.3,712.3 285.8,714.3 300.0,718.0 C314.2,721.7 337.5,728.0 345.0,730.0" fill="none" stroke="#93c872" stroke-width="6" stroke-linecap="round"/><path d="M120.0,660.0 C128.3,664.7 155.0,679.7 170.0,688.0 C185.0,696.3 195.0,703.3 210.0,710.0 C225.0,716.7 243.3,722.2 260.0,728.0 C276.7,733.8 296.7,740.0 310.0,745.0 C323.3,750.0 335.0,755.8 340.0,758.0" fill="none" stroke="#93c872" stroke-width="4" stroke-linecap="round"/><path d="M175.0,585.0 C181.4,587.3 201.6,594.0 213.6,599.0 C225.6,604.0 234.1,607.3 247.2,614.8 C260.3,622.3 277.0,635.8 292.0,644.0 C307.0,652.2 324.0,656.3 337.0,664.0 C350.0,671.7 364.5,685.7 370.0,690.0" fill="none" stroke="#93c872" stroke-width="6" stroke-linecap="round"/><path d="M180.0,610.0 C185.6,611.5 202.4,615.2 213.6,619.0 C224.8,622.8 241.6,630.5 247.2,632.8" fill="none" stroke="#93c872" stroke-width="5" stroke-linecap="round"/><path d="M285.3,599.1 C294.4,597.9 320.2,594.2 340.0,592.0 C359.8,589.8 393.4,586.8 404.1,585.7" fill="none" stroke="#93c872" stroke-width="4" stroke-linecap="round"/><path d="M254.0,604.7 C260.3,607.5 278.2,616.9 292.0,621.6 C305.8,626.3 323.9,631.3 337.0,632.8 C350.1,634.3 359.3,634.6 370.5,630.5 C381.7,626.4 395.1,617.3 404.0,608.0 C412.9,598.7 420.7,580.1 424.0,574.5" fill="none" stroke="#93c872" stroke-width="5.5" stroke-linecap="round"/><path d="M236.0,621.6 C243.5,625.0 266.1,635.7 281.0,641.7 C295.9,647.7 312.6,654.8 325.7,657.4 C338.8,660.0 348.1,660.8 359.3,657.4 C370.5,654.0 379.9,649.2 393.0,637.2 C406.1,625.2 430.3,594.3 437.8,585.7" fill="none" stroke="#93c872" stroke-width="5.5" stroke-linecap="round"/><path d="M180.0,653.0 C187.5,653.7 208.0,653.7 224.8,657.4 C241.6,661.1 264.2,670.4 281.0,675.3 C297.8,680.2 310.8,685.9 325.7,686.6 C340.6,687.4 357.4,683.5 370.5,679.8 C383.6,676.0 392.4,671.2 404.0,664.1 C415.6,657.0 434.0,641.7 440.0,637.2" fill="none" stroke="#93c872" stroke-width="7" stroke-linecap="round"/><path d="M180.0,679.8 C187.5,682.0 206.1,689.2 224.8,693.3 C243.5,697.4 273.3,701.1 292.0,704.5 C310.7,707.9 322.1,712.6 337.0,713.4 C351.9,714.1 364.5,713.5 381.7,709.0 C398.9,704.5 430.3,690.3 440.0,686.6" fill="none" stroke="#93c872" stroke-width="5.5" stroke-linecap="round"/><path d="M202.4,704.5 C213.6,707.5 247.3,717.2 269.7,722.4 C292.1,727.6 314.6,734.4 337.0,735.9 C359.4,737.4 386.8,733.6 404.0,731.4 C421.2,729.1 434.0,723.9 440.0,722.4" fill="none" stroke="#93c872" stroke-width="4.5" stroke-linecap="round"/><path d="M180.0,695.5 C191.2,699.2 224.8,710.4 247.2,717.9 C269.6,725.4 292.1,734.7 314.5,740.3 C336.9,745.9 360.8,750.5 381.7,751.6 C402.6,752.7 430.3,747.8 440.0,747.0" fill="none" stroke="#93c872" stroke-width="4.5" stroke-linecap="round"/><path d="M628.0,463.9 C620.0,470.8 594.9,492.6 580.0,505.0 C565.1,517.4 552.0,528.9 538.7,538.4 C525.4,547.9 512.9,554.5 500.0,562.0 C487.1,569.5 467.7,579.6 461.2,583.1" fill="none" stroke="#93c872" stroke-width="4" stroke-linecap="round"/><path d="M643.0,475.8 C635.8,481.5 612.4,500.1 600.0,510.0 C587.6,519.9 583.7,526.2 568.5,535.4 C553.3,544.6 526.3,556.8 508.9,565.2 C491.5,573.7 471.6,582.6 464.2,586.1" fill="none" stroke="#93c872" stroke-width="3.5" stroke-linecap="round"/><path d="M583.4,481.7 C576.0,486.2 553.1,499.7 538.7,508.6 C524.3,517.6 509.4,527.0 497.0,535.4 C484.6,543.8 474.6,551.3 464.2,559.3 C453.8,567.2 439.4,579.1 434.4,583.1" fill="none" stroke="#93c872" stroke-width="3.5" stroke-linecap="round"/><path d="M589.4,565.2 C582.0,572.2 560.6,595.1 544.7,607.0 C528.8,618.9 510.9,626.9 494.0,636.8 C477.1,646.7 458.2,656.1 443.3,666.6 C428.4,677.1 411.0,694.4 404.5,700.0" fill="none" stroke="#93c872" stroke-width="5" stroke-linecap="round"/><path d="M640.0,520.0 C633.3,526.7 613.3,546.7 600.0,560.0 C586.7,573.3 575.0,586.7 560.0,600.0 C545.0,613.3 526.7,626.7 510.0,640.0 C493.3,653.3 475.0,667.5 460.0,680.0 C445.0,692.5 426.7,709.2 420.0,715.0" fill="none" stroke="#93c872" stroke-width="4" stroke-linecap="round"/><path d="M620.0,540.0 C612.5,547.5 591.7,570.8 575.0,585.0 C558.3,599.2 537.5,612.5 520.0,625.0 C502.5,637.5 485.0,647.5 470.0,660.0 C455.0,672.5 441.7,688.3 430.0,700.0 C418.3,711.7 405.0,725.0 400.0,730.0" fill="none" stroke="#93c872" stroke-width="3.5" stroke-linecap="round"/><path d="M450.0,720.0 C458.3,715.8 483.3,705.0 500.0,695.0 C516.7,685.0 533.3,673.3 550.0,660.0 C566.7,646.7 591.7,622.5 600.0,615.0" fill="none" stroke="#93c872" stroke-width="4" stroke-linecap="round"/><path d="M300.0,755.0 C308.3,755.8 333.3,760.5 350.0,760.0 C366.7,759.5 383.3,755.3 400.0,752.0 C416.7,748.7 441.7,742.0 450.0,740.0" fill="none" stroke="#93c872" stroke-width="3.5" stroke-linecap="round"/><path d="M250.0,742.0 C258.3,743.3 285.0,747.5 300.0,750.0 C315.0,752.5 333.3,755.8 340.0,757.0" fill="none" stroke="#93c872" stroke-width="3" stroke-linecap="round"/></g><path d="M258.0,599.0 C268.3,597.5 299.3,593.7 320.0,590.0 C340.7,586.3 365.7,580.3 382.0,577.0 C398.3,573.7 412.0,571.2 418.0,570.0" fill="none" stroke="#333" stroke-width="0.8"/><path d="M147.0,577.7 C154.2,581.6 176.4,593.0 190.5,600.9 C204.6,608.8 217.8,617.2 231.4,625.4 C245.0,633.6 260.9,641.8 272.3,650.0 C283.7,658.2 291.4,664.4 299.6,674.5 C307.9,684.6 314.0,702.0 321.8,710.7 C329.6,719.5 339.5,721.9 346.3,727.0 C353.1,732.1 358.2,736.2 362.6,741.3 C367.0,746.4 368.5,752.2 372.9,757.7 C377.3,763.2 386.5,771.3 389.2,774.0" fill="none" stroke="#111" stroke-width="2.2"/><path d="M385.0,695.0 C386.7,689.2 389.5,670.8 395.0,660.0 C400.5,649.2 410.0,641.2 418.0,630.0 C426.0,618.8 434.5,603.8 443.0,593.0 C451.5,582.2 460.5,573.2 469.0,565.0 C477.5,556.8 486.3,550.0 494.0,544.0 C501.7,538.0 507.3,533.8 515.0,529.0 C522.7,524.2 535.8,517.3 540.0,515.0" fill="none" stroke="#111" stroke-width="1.5"/><line x1="106" y1="588" x2="321" y2="780" stroke="#9a7a6a" stroke-width="5.2"/><line x1="106" y1="588" x2="321" y2="780" stroke="#f3c6aa" stroke-width="3.8"/><line x1="338.5" y1="632.4" x2="283" y2="741" stroke="#9a7a6a" stroke-width="5.2"/><line x1="338.5" y1="632.4" x2="283" y2="741" stroke="#f3c6aa" stroke-width="3.8"/><line x1="604" y1="520" x2="392" y2="775" stroke="#9a7a6a" stroke-width="5.2"/><line x1="604" y1="520" x2="392" y2="775" stroke="#f3c6aa" stroke-width="3.8"/><line x1="553" y1="529.5" x2="498" y2="642" stroke="#9a7a6a" stroke-width="5.2"/><line x1="553" y1="529.5" x2="498" y2="642" stroke="#f3c6aa" stroke-width="3.8"/><path d="M359.8,772.8h6M362.8,769.8v6M403.2,775.3h6M406.2,772.3v6M321.5,798.3h6M324.5,795.3v6M359.8,793.2h6M362.8,790.2v6M439.0,795.8h6M442.0,792.8v6M469.7,795.8h6M472.7,792.8v6M288.3,834.1h6M291.3,831.1v6M515.7,836.6h6M518.7,833.6v6M242.3,853.5h6M245.3,850.5v6M313.8,849.4h6M316.8,846.4v6M359.8,849.4h6M362.8,846.4v6M423.7,852.0h6M426.7,849.0v6M482.4,848.4h6M485.4,845.4v6M528.4,853.5h6M531.4,850.5v6M566.7,853.5h6M569.7,850.5v6" stroke="#7d6558" stroke-width="0.8"/><path d="M27.6,571.0 C39.7,581.6 80.8,618.6 100.0,634.5 C119.2,650.4 128.4,655.9 142.6,666.5 C156.8,677.1 171.0,689.2 185.2,698.4 C199.4,707.6 213.6,714.0 227.8,721.8 C242.0,729.6 253.4,736.9 270.4,745.3 C287.4,753.7 320.0,767.5 329.9,772.0" fill="none" stroke="#111" stroke-width="2.6"/><path d="M412.7,764.0 C418.0,758.9 433.2,745.1 444.4,733.1 C455.6,721.1 471.7,701.4 480.0,692.3 C488.3,683.2 484.2,690.7 494.0,678.5 C503.8,666.3 523.8,637.3 538.7,618.9 C553.6,600.5 568.5,584.6 583.4,568.2 C598.3,551.8 615.8,534.4 628.2,520.5 C640.6,506.6 650.7,494.8 658.0,484.7 C665.3,474.6 669.6,464.0 671.9,459.9" fill="none" stroke="#111" stroke-width="2.6"/></g><g clip-path="url(#diag)"><g clip-path="url(#sed)"><path d="M27.6,109.3 C33.0,109.4 47.6,110.0 60.0,110.0 C72.4,110.0 86.5,109.7 102.0,109.5 C117.5,109.3 136.1,109.9 153.1,109.0 C170.1,108.1 191.4,105.7 204.3,104.0 C217.1,102.3 221.7,100.7 230.4,99.0 C239.1,97.2 244.7,95.8 256.4,93.5 C268.1,91.1 290.0,86.9 300.4,85.0 C310.7,83.1 315.3,82.5 318.3,82.0 L317.7,78.0 C314.7,78.5 310.0,79.1 299.6,81.0 C289.3,83.0 267.3,87.2 255.6,89.5 C243.9,91.9 238.2,93.3 229.6,95.0 C221.0,96.8 216.5,98.4 203.7,100.0 C191.0,101.7 169.9,104.1 152.9,105.0 C135.9,105.9 117.5,105.3 102.0,105.5 C86.5,105.7 72.4,106.0 60.0,106.0 C47.6,106.0 33.0,105.4 27.6,105.3 Z" fill="#92b6d6" stroke="#5d7f9e" stroke-width="0.8"/><path d="M45.6,109.7L45.6,105.7M70.6,109.9L70.6,105.9M95.6,109.6L95.6,105.6M120.6,109.3L120.6,105.3M145.6,109.1L145.6,105.1M170.7,107.3L170.3,103.3M195.6,104.8L195.2,100.9M220.4,100.9L219.7,96.9M245.0,95.9L244.1,92.0M269.4,90.9L268.7,87.0M294.0,86.2L293.2,82.3" stroke="#5d7f9e" stroke-width="0.7"/><path d="M27.7,120.8 C35.8,120.6 64.4,119.9 76.8,119.5 C89.2,119.1 94.4,118.6 102.1,118.2 C109.8,117.7 119.6,117.0 123.1,116.8 L122.9,112.8 C119.4,113.0 109.6,113.8 101.9,114.2 C94.2,114.7 89.0,115.1 76.6,115.5 C64.2,115.9 35.7,116.6 27.5,116.8 Z" fill="#92b6d6" stroke="#5d7f9e" stroke-width="0.8"/><path d="M45.6,120.3L45.5,116.3M70.6,119.7L70.5,115.7M95.7,118.5L95.5,114.5M120.6,117.0L120.4,113.0" stroke="#5d7f9e" stroke-width="0.7"/><path d="M52.5,161.7 C58.8,161.5 77.3,161.7 90.2,160.2 C103.2,158.8 117.0,155.1 130.3,153.2 C143.6,151.4 157.8,150.4 170.2,149.2 C182.6,148.1 198.9,146.7 204.6,146.2 L204.2,141.8 C198.5,142.3 182.2,143.6 169.8,144.8 C157.4,145.9 143.0,146.9 129.7,148.8 C116.4,150.6 102.7,154.3 89.8,155.8 C76.9,157.2 58.6,157.0 52.3,157.3 Z" fill="#92b6d6" stroke="#5d7f9e" stroke-width="0.8"/><path d="M70.5,161.0L70.3,156.5M95.7,159.3L94.9,154.9M120.3,155.0L119.5,150.5M144.9,151.8L144.5,147.3M169.8,149.3L169.3,144.8M194.7,147.1L194.3,142.6" stroke="#5d7f9e" stroke-width="0.7"/><path d="M189.6,259.7 C208.1,256.6 258.6,248.5 300.6,241.2 C342.7,233.9 393.3,224.3 441.7,215.7 C490.0,207.1 550.0,197.0 590.7,189.7 C631.3,182.4 669.9,174.7 685.7,171.7 L684.3,164.3 C668.5,167.3 630.0,175.0 589.3,182.3 C548.7,189.6 488.7,199.7 440.3,208.3 C392.0,216.9 341.3,226.5 299.4,233.8 C257.4,241.1 206.9,249.2 188.4,252.3 Z" fill="#92b6d6" stroke="#5d7f9e" stroke-width="0.8"/><path d="M207.4,256.7L206.1,249.3M232.0,252.6L230.8,245.2M256.7,248.5L255.5,241.1M281.4,244.4L280.1,237.0M306.0,240.2L304.7,232.8M330.6,235.8L329.3,228.4M355.3,231.3L353.9,223.9M379.9,226.9L378.5,219.5M404.5,222.4L403.1,215.0M429.1,218.0L427.7,210.6M453.6,213.6L452.4,206.2M478.3,209.3L477.0,201.9M502.9,205.0L501.6,197.6M527.5,200.7L526.2,193.3M552.2,196.4L550.9,189.0M576.8,192.1L575.5,184.7M601.4,187.6L600.0,180.3M626.0,183.0L624.6,175.6M650.6,178.3L649.2,171.0M675.1,173.7L673.7,166.3" stroke="#5d7f9e" stroke-width="0.7"/><path d="M184.8,302.4 C204.1,298.2 257.8,285.1 300.7,276.9 C343.5,268.8 393.3,263.4 441.7,253.4 C490.1,243.5 548.5,227.2 590.8,217.4 C633.1,207.6 678.3,198.3 695.7,194.4 L694.3,187.6 C676.7,191.4 631.5,200.8 589.2,210.6 C546.9,220.4 488.6,236.7 440.3,246.6 C392.0,256.5 342.2,261.9 299.3,270.1 C256.5,278.2 202.6,291.3 183.2,295.6 Z" fill="#92b6d6" stroke="#5d7f9e" stroke-width="0.8"/><path d="M202.3,298.6L200.8,291.7M226.7,293.2L225.2,286.3M251.2,287.8L249.7,281.0M275.6,282.5L274.1,275.6M300.0,277.1L298.5,270.2M324.5,273.0L323.3,266.1M349.1,268.9L348.0,262.0M373.8,264.7L372.6,257.8M398.5,260.6L397.3,253.7M423.1,256.5L422.0,249.6M447.9,251.9L446.3,245.1M472.2,246.1L470.6,239.3M496.5,240.2L494.9,233.4M520.8,234.3L519.2,227.5M545.1,228.4L543.5,221.6M569.4,222.6L567.8,215.8M593.7,216.8L592.2,209.9M618.1,211.4L616.6,204.6M642.5,206.1L641.0,199.2M666.9,200.7L665.4,193.9M691.4,195.4L689.9,188.5" stroke="#5d7f9e" stroke-width="0.7"/><path d="M66.9,387.4 C80.9,383.7 123.5,372.7 150.9,365.4 C178.3,358.0 206.7,351.0 231.1,343.3 C255.4,335.7 286.2,323.3 297.2,319.3 L294.8,312.7 C283.8,316.7 253.2,329.0 228.9,336.7 C204.7,344.3 176.4,351.3 149.1,358.6 C121.8,365.9 79.1,376.9 65.1,380.6 Z" fill="#92b6d6" stroke="#5d7f9e" stroke-width="0.8"/><path d="M84.3,382.8L82.5,376.1M108.5,376.5L106.7,369.7M132.7,370.2L130.9,363.4M156.9,363.7L155.0,357.0M181.0,357.1L179.1,350.4M205.1,350.5L203.2,343.7M229.2,343.9L227.3,337.1M253.0,335.4L250.6,328.8M276.5,326.8L274.1,320.2" stroke="#5d7f9e" stroke-width="0.7"/><path d="M29.9,412.4 C40.2,409.5 68.7,404.0 91.3,395.3 C113.9,386.6 153.1,366.0 165.5,360.2 L162.5,353.8 C150.2,359.7 111.1,380.1 88.7,388.7 C66.3,397.4 38.2,402.8 28.1,405.6 Z" fill="#92b6d6" stroke="#5d7f9e" stroke-width="0.8"/><path d="M47.3,407.5L45.4,400.8M71.4,400.8L69.5,394.1M95.7,393.2L92.7,386.8M118.3,382.5L115.3,376.1M140.9,371.8L137.9,365.5M163.5,361.1L160.5,354.8" stroke="#5d7f9e" stroke-width="0.7"/><path d="M335.9,320.6 C344.0,318.6 366.0,312.7 384.8,308.7 C403.6,304.7 427.3,300.5 448.7,296.7 C470.0,292.9 494.0,289.5 512.8,285.7 C531.5,281.8 542.9,278.3 560.9,273.6 C579.0,269.0 599.8,263.5 621.0,257.6 C642.2,251.8 676.9,241.8 688.0,238.6 L686.0,231.4 C674.8,234.6 640.2,244.6 619.0,250.4 C597.9,256.2 577.0,261.7 559.1,266.4 C541.1,271.0 529.9,274.5 511.2,278.3 C492.6,282.1 468.7,285.5 447.3,289.3 C426.0,293.1 402.1,297.3 383.2,301.3 C364.3,305.3 342.3,311.4 334.1,313.4 Z" fill="#92b6d6" stroke="#5d7f9e" stroke-width="0.8"/><path d="M353.4,316.4L351.6,309.1M377.7,310.4L375.9,303.1M401.9,305.5L400.6,298.1M426.5,300.8L425.1,293.5M451.0,296.3L449.8,288.9M475.7,292.0L474.4,284.7M500.3,287.8L499.0,280.4M525.0,282.6L523.2,275.3M549.3,276.5L547.5,269.3M573.5,270.3L571.6,263.0M597.7,263.8L595.8,256.6M621.9,257.4L619.9,250.1M646.0,250.5L643.9,243.3M670.0,243.7L668.0,236.5" stroke="#5d7f9e" stroke-width="0.7"/><path d="M361.7,324.7 C369.7,323.2 395.3,318.8 409.8,315.7 C424.3,312.5 431.6,309.0 448.7,305.7 C465.9,302.4 494.0,299.4 512.7,295.7 C531.4,292.0 542.9,288.3 560.9,283.6 C579.0,278.9 600.7,273.6 621.1,267.6 C641.4,261.6 672.8,250.9 683.2,247.6 L680.8,240.4 C670.5,243.8 639.2,254.4 618.9,260.4 C598.6,266.4 577.0,271.7 559.1,276.4 C541.1,281.0 529.9,284.7 511.3,288.3 C492.6,292.0 464.5,295.0 447.3,298.3 C430.1,301.7 422.7,305.2 408.2,308.3 C393.7,311.5 368.3,315.8 360.3,317.3 Z" fill="#92b6d6" stroke="#5d7f9e" stroke-width="0.8"/><path d="M379.4,321.4L378.0,314.0M404.0,316.8L402.6,309.4M428.5,310.9L426.6,303.6M452.4,305.1L451.3,297.7M477.1,301.2L476.0,293.8M501.8,297.4L500.7,290.0M526.6,292.2L524.8,284.9M550.9,286.1L549.0,278.9M575.1,279.8L573.2,272.6M599.3,273.4L597.3,266.2M623.6,266.8L621.3,259.6M647.4,259.1L645.1,252.0M671.2,251.4L668.9,244.3" stroke="#5d7f9e" stroke-width="0.7"/><path d="M36.6,472.9 C43.9,471.4 66.6,466.8 80.6,463.9 C94.6,461.1 108.9,458.1 120.5,455.9 C132.2,453.8 145.5,451.8 150.5,451.0 L149.5,445.0 C144.5,445.9 131.1,447.9 119.5,450.1 C107.8,452.2 93.4,455.2 79.4,458.1 C65.4,460.9 42.7,465.6 35.4,467.1 Z" fill="#92b6d6" stroke="#5d7f9e" stroke-width="0.8"/><path d="M54.2,469.3L53.0,463.5M78.7,464.3L77.5,458.4M103.2,459.4L102.1,453.5M127.7,454.8L126.7,448.8" stroke="#5d7f9e" stroke-width="0.7"/><path d="M290.5,423.2 C297.2,422.2 317.2,419.5 330.6,417.2 C343.9,414.9 359.0,411.5 370.6,409.2 C382.3,406.9 395.6,404.2 400.6,403.2 L399.4,396.8 C394.4,397.8 381.0,400.5 369.4,402.8 C357.7,405.1 342.7,408.5 329.4,410.8 C316.1,413.1 296.2,415.8 289.5,416.8 Z" fill="#92b6d6" stroke="#5d7f9e" stroke-width="0.8"/><path d="M308.3,420.5L307.3,414.1M333.1,416.7L331.9,410.3M357.7,411.8L356.4,405.4M382.2,406.9L380.9,400.5" stroke="#5d7f9e" stroke-width="0.7"/><path d="M556.5,377.7 C562.3,375.4 580.7,368.5 591.6,363.7 C602.5,358.8 612.7,353.5 621.9,348.5 C631.2,343.5 642.9,335.9 647.1,333.4 L642.9,326.6 C638.8,329.1 627.2,336.5 618.1,341.5 C609.0,346.5 599.1,351.5 588.4,356.3 C577.6,361.1 559.3,368.0 553.5,370.3 Z" fill="#92b6d6" stroke="#5d7f9e" stroke-width="0.8"/><path d="M573.2,371.0L570.2,363.6M596.5,361.2L593.0,354.1M618.9,350.0L615.3,342.9M640.7,337.2L636.6,330.4" stroke="#5d7f9e" stroke-width="0.7"/><path d="M756.2,216.5 C760.3,214.5 771.6,207.6 780.8,204.8 C790.0,202.1 798.7,202.1 811.2,199.8 C823.6,197.6 848.1,192.7 855.5,191.3 L854.5,185.9 C847.1,187.3 822.8,192.1 810.2,194.4 C797.7,196.7 788.6,196.7 779.2,199.6 C769.8,202.4 758.1,209.5 753.8,211.5 Z" fill="#92b6d6" stroke="#5d7f9e" stroke-width="0.8"/><path d="M772.5,208.8L770.1,203.8M795.6,202.4L794.7,197.0M820.3,198.1L819.3,192.7M844.8,193.3L843.8,187.9" stroke="#5d7f9e" stroke-width="0.7"/><path d="M759.1,233.3 C762.8,232.1 773.1,228.4 781.0,226.1 C788.9,223.7 796.8,222.5 806.7,219.1 C816.6,215.7 830.7,207.9 840.4,205.6 C850.0,203.4 856.3,204.2 864.6,205.7 C872.9,207.1 882.8,213.0 890.1,214.2 C897.5,215.3 901.5,214.9 909.0,212.3 C916.5,209.7 926.4,203.3 935.0,198.4 C943.6,193.6 956.4,185.7 960.7,183.1 L957.1,177.1 C952.8,179.6 940.0,187.6 931.6,192.4 C923.2,197.1 913.3,203.2 906.6,205.7 C899.9,208.2 898.1,208.4 891.3,207.2 C884.4,206.1 874.5,200.2 865.8,198.7 C857.0,197.3 849.0,196.5 838.8,198.8 C828.6,201.1 814.4,209.1 804.5,212.5 C794.5,215.9 786.9,217.0 779.0,219.3 C771.1,221.7 760.6,225.5 756.9,226.7 Z" fill="#92b6d6" stroke="#5d7f9e" stroke-width="0.8"/><path d="M776.2,227.7L774.0,221.0M800.0,220.9L798.2,214.2M823.9,212.3L821.3,205.8M846.3,205.7L846.3,198.7M869.9,207.4L872.1,200.8M895.2,213.8L894.5,206.8M920.1,206.4L916.8,200.3M942.1,194.2L938.5,188.2" stroke="#5d7f9e" stroke-width="0.7"/><path d="M793.9,161.9 C800.3,159.8 817.3,154.7 832.2,149.5 C847.1,144.4 868.1,136.0 883.4,130.9 C898.7,125.7 917.3,120.6 924.1,118.6 L921.9,111.4 C915.1,113.5 896.4,118.6 881.0,123.7 C865.6,128.9 844.7,137.3 829.8,142.5 C814.9,147.6 798.0,152.7 791.7,154.7 Z" fill="#92b6d6" stroke="#5d7f9e" stroke-width="0.8"/><path d="M811.1,156.4L808.8,149.2M835.0,148.5L832.4,141.5M858.5,140.0L855.9,132.9M881.9,131.4L879.4,124.3M905.6,124.1L903.5,117.0" stroke="#5d7f9e" stroke-width="0.7"/><path d="M901.0,175.3 L961.0,137.0 L957.6,131.6 L897.6,169.9 Z" fill="#92b6d6" stroke="#5d7f9e" stroke-width="0.8"/><path d="M916.2,165.7L912.7,160.2M937.3,152.2L933.8,146.7M958.4,138.8L954.9,133.3" stroke="#5d7f9e" stroke-width="0.7"/><path d="M905.3,181.7 L965.3,140.7 L961.7,135.3 L901.7,176.3 Z" fill="#92b6d6" stroke="#5d7f9e" stroke-width="0.8"/><path d="M920.2,171.5L916.5,166.2M940.8,157.4L937.2,152.1M961.5,143.3L957.8,138.0" stroke="#5d7f9e" stroke-width="0.7"/></g><path d="M27.6,45.3 C31.5,45.6 38.6,46.5 51.0,47.4 C63.4,48.2 85.0,49.0 102.0,50.4 C119.0,51.8 136.0,53.7 153.0,55.6 C170.0,57.5 191.2,60.3 204.0,62.0 C216.8,63.7 221.3,64.3 230.0,65.8 C238.7,67.3 247.5,69.0 256.0,70.9 C264.5,72.8 273.7,75.6 281.0,77.3 C288.3,79.0 294.2,80.2 300.0,81.1 C305.8,81.9 310.0,82.4 315.6,82.4 C321.2,82.4 329.2,81.9 333.4,81.1 C337.6,80.2 335.9,78.4 341.0,77.3 C346.1,76.2 353.3,75.8 364.0,74.7 C374.7,73.6 391.8,72.0 405.0,70.9 C418.2,69.8 430.2,69.4 443.0,68.3 C455.8,67.2 469.2,64.5 482.0,64.5 C494.8,64.5 507.0,67.8 520.0,68.3 C533.0,68.8 550.0,67.6 560.0,67.6 C570.0,67.6 569.8,68.1 580.0,68.4 C590.2,68.7 607.7,68.8 621.0,69.2 C634.3,69.6 649.7,69.9 660.0,70.7 C670.3,71.5 674.2,72.7 683.0,73.8 C691.8,74.9 703.5,76.8 713.0,77.6 C722.5,78.4 728.1,77.4 740.0,78.4 C751.9,79.4 771.7,81.8 784.5,83.7 C797.3,85.6 805.2,88.3 817.0,89.9 C828.8,91.5 841.3,92.3 855.0,93.2 C868.7,94.1 886.1,94.5 899.0,95.4 C911.9,96.3 922.4,96.5 932.6,98.7 C942.8,100.9 950.6,105.7 960.0,108.7 C969.4,111.7 977.8,113.6 989.0,116.9 C1000.2,120.2 1012.4,125.9 1027.3,128.4 C1042.2,130.9 1063.5,131.1 1078.4,132.2 C1093.3,133.3 1101.9,134.4 1116.8,134.8 C1131.7,135.2 1159.5,134.8 1168.0,134.8" fill="none" stroke="#d8344e" stroke-width="1.6" /><path d="M359.0,77.5 C364.5,78.3 380.1,81.2 392.0,82.4 C403.9,83.7 417.7,84.2 430.5,85.0 C443.3,85.8 456.2,86.7 469.0,87.5 C481.8,88.3 496.3,89.4 507.0,90.0 C517.7,90.6 524.2,91.7 533.0,91.3 C541.8,90.9 551.7,89.1 560.0,87.6 C568.3,86.1 575.3,83.9 583.0,82.2 C590.7,80.5 598.3,78.8 606.0,77.6 C613.7,76.4 621.3,75.9 629.0,75.3 C636.7,74.7 646.5,74.4 652.0,73.8 C657.5,73.2 656.8,71.1 662.0,71.5 C667.2,71.9 677.8,74.3 683.0,76.1 C688.2,77.9 689.6,80.4 693.4,82.2 C697.2,84.0 701.1,85.4 705.7,86.8 C710.3,88.2 715.3,89.4 721.0,90.6 C726.7,91.8 732.4,92.5 740.0,93.7 C747.6,94.9 756.4,95.8 766.4,97.6 C776.4,99.4 791.2,102.6 799.7,104.3 C808.2,106.0 810.0,107.0 817.4,107.6 C824.8,108.2 834.1,107.6 844.0,108.0 C853.9,108.4 864.1,109.1 877.0,109.8 C889.9,110.5 911.1,110.9 921.5,112.0 C931.9,113.1 932.2,112.2 939.2,116.4 C946.2,120.6 950.8,127.9 963.4,137.3 C976.0,146.8 997.5,165.2 1014.6,173.1 C1031.7,181.0 1046.5,183.8 1065.7,184.6 C1084.9,185.4 1116.0,178.8 1129.6,178.2 C1143.2,177.6 1141.0,177.4 1147.4,180.8 C1153.8,184.2 1164.6,195.7 1168.0,198.7" fill="none" stroke="#d8344e" stroke-width="1.6" /><path d="M27.6,157.8 C31.5,157.4 42.8,156.5 51.0,155.2 C59.2,153.9 68.2,151.8 76.7,150.1 C85.2,148.4 93.5,146.3 102.0,145.0 C110.5,143.7 119.5,143.0 128.0,142.4 C136.5,141.8 140.3,141.4 153.0,141.2 C165.7,141.0 191.2,141.1 204.0,141.2 C216.8,141.3 223.5,142.3 230.0,141.7 C236.5,141.0 238.7,138.2 243.0,137.3 C247.3,136.4 249.7,136.6 256.0,136.0 C262.3,135.4 273.7,134.1 281.0,133.5 C288.3,132.9 294.2,133.3 300.0,132.2 C305.8,131.1 304.5,129.3 315.6,127.0 C326.7,124.7 351.8,120.3 366.7,118.2 C381.6,116.1 392.3,115.6 405.0,114.3 C417.7,113.0 432.3,110.5 443.0,110.5 C453.7,110.5 460.4,112.8 469.0,114.3 C477.6,115.8 483.9,117.5 494.5,119.4 C505.1,121.3 521.9,124.7 532.8,125.8 C543.7,126.9 549.1,126.3 560.0,125.9 C570.9,125.5 586.8,124.9 598.3,123.6 C609.8,122.3 618.8,118.7 629.0,118.2 C639.2,117.7 650.8,120.6 659.7,120.5 C668.7,120.4 673.8,118.7 682.7,117.5 C691.6,116.3 703.0,114.1 713.3,113.6 C723.6,113.0 728.8,114.3 744.3,114.2 C759.8,114.1 794.1,114.1 806.3,113.1 C818.5,112.1 815.5,108.8 817.4,108.0" fill="none" stroke="#d8344e" stroke-width="1.6" /><path d="M27.6,478.0 C29.4,477.5 30.1,476.5 38.3,474.9 C46.5,473.3 61.8,471.1 76.7,468.5 C91.6,465.9 108.6,463.7 127.8,459.6 C147.0,455.6 170.4,447.6 191.7,444.2 C213.0,440.8 237.4,440.6 255.5,439.1 C273.6,437.6 285.8,436.7 300.0,435.0 C314.2,433.3 325.6,432.0 341.0,428.9 C356.4,425.8 375.1,419.9 392.2,416.1 C409.2,412.3 426.2,408.9 443.3,405.9 C460.4,402.9 481.7,399.7 494.5,398.2 C507.3,396.7 511.5,398.7 520.0,397.0 C528.5,395.3 535.6,392.5 545.6,388.0 C555.6,383.5 565.8,376.8 580.0,370.0 C594.2,363.2 614.0,354.3 631.0,347.1 C648.0,339.9 665.2,334.4 682.2,326.7 C699.2,319.0 718.0,307.9 733.3,301.1 C748.6,294.3 767.4,288.4 774.2,285.8" fill="none" stroke="#d8344e" stroke-width="1.6" /><path d="M27.6,571.0 C44.3,571.7 98.6,573.6 128.0,575.0 C157.4,576.4 177.0,578.3 204.0,579.5 C231.0,580.7 267.2,582.7 290.0,582.0 C312.8,581.3 324.0,577.8 341.0,575.5 C358.0,573.2 375.0,570.7 392.0,568.0 C409.0,565.3 426.0,564.1 443.0,559.4 C460.0,554.7 481.2,545.3 494.0,540.0 C506.8,534.7 511.3,533.2 520.0,527.5 C528.7,521.8 537.5,514.1 546.0,506.0 C554.5,497.9 557.3,486.0 571.0,479.0 C584.7,472.0 611.0,468.2 628.0,464.0 C645.0,459.8 665.5,455.7 673.0,454.0" fill="none" stroke="#d8344e" stroke-width="1.6" /><g clip-path="url(#sed)"><path d="M880.0,370.0 C880.8,370.8 877.1,372.7 885.0,375.0 C892.9,377.3 915.9,384.6 927.6,383.8 C939.3,383.0 944.2,375.8 955.1,370.0 C966.0,364.2 980.2,353.0 992.7,348.8 C1005.2,344.6 1019.9,345.4 1030.3,345.0 C1040.7,344.6 1041.9,348.8 1055.3,346.3 C1068.7,343.8 1091.6,332.3 1110.4,330.0 C1129.2,327.7 1158.4,332.1 1168.0,332.5" fill="none" stroke="#d8344e" stroke-width="1.5" /><path d="M912.0,447.0 C916.3,447.9 926.2,454.2 937.6,452.7 C949.0,451.1 968.9,442.3 980.2,437.7 C991.5,433.1 994.8,427.7 1005.2,425.2 C1015.6,422.7 1026.1,423.5 1042.8,422.7 C1059.5,421.9 1088.7,419.4 1105.4,420.2 C1122.1,421.0 1132.6,426.4 1143.0,427.7 C1153.4,428.9 1163.8,427.7 1168.0,427.7" fill="none" stroke="#d8344e" stroke-width="1.5" /><path d="M931.3,489.0 C938.6,490.2 956.6,500.2 975.2,496.5 C993.8,492.8 1021.1,472.1 1042.8,466.5 C1064.5,460.9 1090.8,464.4 1105.4,462.7 C1120.0,461.0 1120.0,457.5 1130.4,456.5 C1140.8,455.5 1161.7,456.5 1168.0,456.5" fill="none" stroke="#d8344e" stroke-width="1.5" /><path d="M931.3,489.0 C938.4,493.2 934.4,514.2 973.9,514.0 C1013.4,513.8 1135.7,492.2 1168.0,487.8" fill="none" stroke="#d8344e" stroke-width="1.5" /><path d="M880.0,416.0 C885.4,414.2 900.1,409.0 912.6,405.1 C925.1,401.2 941.8,397.0 955.1,392.6 C968.5,388.2 976.0,383.0 992.7,378.8 C1009.4,374.6 1036.5,369.5 1055.3,367.6 C1074.1,365.7 1086.6,366.8 1105.4,367.6 C1124.2,368.4 1157.6,371.8 1168.0,372.6" fill="none" stroke="#333" stroke-width="0.9" /><path d="M880.0,415.0 C884.2,415.9 894.6,417.7 905.0,420.2 C915.4,422.7 932.1,431.5 942.6,430.2 C953.1,428.9 957.3,417.8 967.7,412.6 C978.1,407.4 992.7,401.8 1005.2,398.9 C1017.7,396.0 1031.1,396.8 1042.8,395.1 C1054.5,393.4 1064.9,388.9 1075.3,388.9 C1085.7,388.9 1094.1,392.4 1105.4,395.1 C1116.7,397.8 1132.6,404.1 1143.0,405.1 C1153.4,406.2 1163.8,402.0 1168.0,401.4" fill="none" stroke="#333" stroke-width="0.9" /><path d="M922.0,467.0 C927.5,467.5 943.3,472.2 955.1,470.2 C966.9,468.2 980.2,459.8 992.7,455.2 C1005.2,450.6 1015.7,446.0 1030.3,442.7 C1044.9,439.4 1063.7,436.4 1080.4,435.2 C1097.1,433.9 1115.8,435.0 1130.4,435.2 C1145.0,435.4 1161.7,436.2 1168.0,436.4" fill="none" stroke="#333" stroke-width="0.9" /><path d="M27.6,234.4 C35.8,235.1 55.8,237.4 76.7,238.3 C97.6,239.2 131.8,240.7 153.0,239.6 C174.2,238.5 186.8,234.3 204.0,232.0 C221.2,229.7 241.7,227.7 256.0,225.5 C270.3,223.3 278.0,222.2 290.0,219.0 C302.0,215.8 315.2,209.3 328.0,206.3 C340.8,203.3 353.9,202.9 366.7,201.2 C379.5,199.5 392.2,198.6 405.0,196.0 C417.8,193.4 428.4,189.3 443.3,185.9 C458.2,182.5 477.4,178.7 494.5,175.7 C511.6,172.7 531.4,169.9 545.6,168.0 C559.9,166.1 565.8,167.2 580.0,164.2 C594.2,161.2 614.0,154.5 631.0,150.0 C648.0,145.5 665.0,142.0 682.0,137.3 C699.0,132.6 722.2,125.2 733.3,122.0 C744.4,118.8 746.1,118.8 748.7,118.2" fill="none" stroke="#222" stroke-width="1.0" /><path d="M27.6,367.6 C33.6,367.4 53.6,367.6 63.9,366.3 C74.2,365.0 80.9,362.7 89.4,359.9 C97.9,357.1 104.3,353.5 115.0,349.7 C125.7,345.9 138.4,340.9 153.3,336.9 C168.2,332.8 187.4,329.2 204.4,325.4 C221.4,321.6 241.2,316.9 255.5,313.9 C269.8,310.9 275.8,310.9 290.0,307.5 C304.2,304.1 324.0,297.4 341.0,293.4 C358.0,289.3 375.1,285.8 392.2,283.2 C409.2,280.6 426.2,280.7 443.3,278.1 C460.4,275.6 477.4,271.3 494.5,267.9 C511.6,264.5 533.7,260.3 545.6,257.7 C557.5,255.0 560.5,254.0 566.0,252.0 C571.5,250.0 567.2,248.2 578.7,245.6 C590.2,243.0 617.8,239.9 635.0,236.2 C652.2,232.4 669.3,226.8 681.8,223.1 C694.3,219.3 700.6,217.4 710.0,213.7 C719.4,209.9 729.3,205.1 738.0,200.6 C746.7,196.1 758.3,188.9 762.4,186.6" fill="none" stroke="#222" stroke-width="1.0" /><path d="M780.0,177.0 C785.4,175.4 805.3,169.9 812.4,167.3 C819.5,164.7 816.6,164.6 822.6,161.3 C828.6,158.0 838.2,151.7 848.1,147.7 C858.0,143.7 873.7,139.8 882.2,137.5 C890.7,135.2 893.6,135.8 899.3,134.1 C905.0,132.4 909.5,129.7 916.3,127.3 C923.1,124.9 936.1,120.9 940.1,119.6" fill="none" stroke="#222" stroke-width="0.9" /><path d="M122.7,114.3 C129.9,115.0 148.1,119.0 166.0,118.2 C183.9,117.4 207.7,112.4 230.0,109.2 C252.3,106.0 281.5,104.3 300.0,99.0 C318.5,93.7 334.2,80.9 341.0,77.3" fill="none" stroke="#222" stroke-width="0.8" /><path d="M27.0,495.2 C33.4,494.1 53.4,490.1 65.3,488.8 C77.2,487.5 87.9,489.4 98.6,487.5 C109.2,485.6 119.8,480.5 129.2,477.3 C138.6,474.1 142.0,471.1 154.8,468.3 C167.6,465.5 188.9,463.0 205.9,460.7 C222.9,458.4 244.2,456.6 257.0,454.3 C269.8,452.0 270.9,449.4 282.6,446.6 C294.3,443.8 307.4,441.3 327.0,437.7 C346.6,434.1 371.2,430.4 400.0,425.0 C428.8,419.6 466.7,413.3 500.0,405.0 C533.3,396.7 566.7,386.7 600.0,375.0 C633.3,363.3 671.7,348.3 700.0,335.0 C728.3,321.7 758.3,301.7 770.0,295.0" fill="none" stroke="#333" stroke-width="0.9" /><path d="M27.0,497.7 C35.5,497.3 61.1,496.5 78.1,495.2 C95.1,493.9 112.2,491.9 129.2,490.0 C146.2,488.1 163.3,486.0 180.3,483.7 C197.3,481.4 214.3,478.6 231.4,476.0 C248.5,473.4 266.7,470.9 282.6,468.3 C298.5,465.8 307.4,464.2 327.0,460.7 C346.6,457.1 371.2,452.4 400.0,447.0 C428.8,441.6 466.7,436.2 500.0,428.0 C533.3,419.8 566.7,409.7 600.0,398.0 C633.3,386.3 671.7,372.7 700.0,358.0 C728.3,343.3 758.3,318.0 770.0,310.0" fill="none" stroke="#333" stroke-width="0.9" /><path d="M27.0,508.0 C44.0,507.2 95.0,505.3 129.0,503.0 C163.0,500.7 198.0,497.5 231.0,494.0 C264.0,490.5 298.8,486.0 327.0,482.0 C355.2,478.0 371.2,475.3 400.0,470.0 C428.8,464.7 466.7,458.7 500.0,450.0 C533.3,441.3 566.7,430.5 600.0,418.0 C633.3,405.5 673.3,388.8 700.0,375.0 C726.7,361.2 750.0,341.7 760.0,335.0" fill="none" stroke="#333" stroke-width="0.8" /><path d="M27.0,520.7 C39.8,520.1 78.2,518.8 103.7,516.9 C129.2,515.0 154.8,512.2 180.3,509.2 C205.9,506.2 232.6,502.2 257.0,499.0 C281.4,495.8 303.2,493.2 327.0,490.0 C350.8,486.8 371.2,484.7 400.0,480.0 C428.8,475.3 466.7,470.0 500.0,462.0 C533.3,454.0 566.7,444.0 600.0,432.0 C633.3,420.0 675.0,402.0 700.0,390.0 C725.0,378.0 741.7,365.0 750.0,360.0" fill="none" stroke="#333" stroke-width="0.9" /><path d="M27.6,533.0 C40.0,532.9 72.6,533.1 102.0,532.6 C131.4,532.1 174.2,531.1 204.0,530.0 C233.8,528.9 253.9,526.6 281.0,526.2 C308.1,525.8 343.9,527.8 366.7,527.5 C389.5,527.2 400.9,527.6 418.0,524.5 C435.1,521.4 452.0,514.6 469.0,509.0 C486.0,503.4 504.2,496.5 520.0,491.0 C535.8,485.5 547.3,480.8 564.0,476.0 C580.7,471.2 601.8,466.0 620.0,462.0 C638.2,458.0 664.2,453.7 673.0,452.0" fill="none" stroke="#d8344e" stroke-width="1.5" /></g><path d="M738.7,378.8 C747.2,372.3 771.3,353.5 790.0,340.0 C808.7,326.5 840.7,304.8 850.8,297.7" fill="none" stroke="#d8344e" stroke-width="1.4" /><rect x="748.2" y="369.2" width="112" height="75" fill="#fcf9e5"/><path d="M671.9,459.9 L722,412.2 L738.7,378.8 L760.2,321.5 L774.5,283.4 L779.2,277.4 L793.6,273.8 L817.4,273.8 L831.7,278.6 L846,284.6 L862.7,321.5 L886.6,369.2 L917.6,459.9 L931.5,489.2" fill="none" stroke="#111" stroke-width="2.6" stroke-linejoin="round"/></g><g clip-path="url(#sed)"><path d="M420.0,347.0 C418.8,348.5 413.6,352.8 413.0,355.8 C412.4,358.7 416.7,361.6 416.5,364.5 C416.3,367.4 412.4,370.3 412.0,373.2 C411.6,376.2 413.7,380.5 414.0,382.0 L412.8,381.0 C412.2,379.7 409.4,376.0 409.5,373.2 C409.6,370.5 414.0,367.4 413.5,364.5 C413.0,361.6 408.8,358.7 406.5,355.8 C404.2,352.8 401.1,348.5 400.0,347.0 Z" fill="#cac4bc" stroke="#6f6a66" stroke-width="0.6"/><path d="M539.0,327.0 C538.0,328.1 533.5,331.5 533.0,333.8 C532.6,336.0 536.4,338.2 536.2,340.5 C536.1,342.8 532.7,345.0 532.4,347.2 C532.0,349.5 533.6,352.9 533.9,354.0 L532.7,353.0 C532.2,352.0 529.8,349.3 529.9,347.2 C529.9,345.2 533.7,342.8 533.2,340.5 C532.8,338.2 529.2,336.0 527.3,333.8 C525.4,331.5 522.9,328.1 522.0,327.0 Z" fill="#cac4bc" stroke="#6f6a66" stroke-width="0.6"/><path d="M623.0,300.0 C622.4,301.2 619.4,304.7 619.1,307.0 C618.9,309.3 621.8,311.7 621.8,314.0 C621.7,316.3 619.4,318.7 619.0,321.0 C618.7,323.3 619.6,326.8 619.7,328.0 L618.5,327.0 C618.2,326.0 616.5,323.2 616.5,321.0 C616.6,318.8 619.0,316.3 618.8,314.0 C618.5,311.7 616.0,309.3 614.9,307.0 C613.8,304.7 612.5,301.2 612.0,300.0 Z" fill="#cac4bc" stroke="#6f6a66" stroke-width="0.6"/><path d="M578.0,372.0 C577.5,372.7 575.3,374.7 575.2,376.0 C575.1,377.3 577.5,378.7 577.5,380.0 C577.5,381.3 575.7,382.7 575.4,384.0 C575.1,385.3 575.6,387.3 575.6,388.0 L574.4,387.0 C574.1,386.5 572.9,385.2 572.9,384.0 C572.9,382.8 574.7,381.3 574.5,380.0 C574.3,378.7 572.5,377.3 571.7,376.0 C571.0,374.7 570.3,372.7 570.0,372.0 Z" fill="#cac4bc" stroke="#6f6a66" stroke-width="0.6"/><path d="M517.0,399.0 C516.5,399.5 514.0,401.0 513.9,402.0 C513.7,403.0 516.2,404.0 516.2,405.0 C516.3,406.0 514.3,407.0 514.0,408.0 C513.6,409.0 514.2,410.5 514.3,411.0 L513.1,410.0 C512.8,409.7 511.4,408.8 511.5,408.0 C511.5,407.2 513.5,406.0 513.2,405.0 C513.0,404.0 511.0,403.0 510.1,402.0 C509.2,401.0 508.4,399.5 508.0,399.0 Z" fill="#cac4bc" stroke="#6f6a66" stroke-width="0.6"/><path d="M121.0,403.0 C120.1,404.1 116.1,407.3 115.8,409.5 C115.4,411.7 118.8,413.8 118.8,416.0 C118.7,418.2 115.6,420.3 115.2,422.5 C114.9,424.7 116.3,427.9 116.5,429.0 L115.3,428.0 C114.9,427.1 112.7,424.5 112.8,422.5 C112.8,420.5 116.1,418.2 115.8,416.0 C115.4,413.8 112.1,411.7 110.5,409.5 C108.9,407.3 106.8,404.1 106.0,403.0 Z" fill="#cac4bc" stroke="#6f6a66" stroke-width="0.6"/><path d="M252.0,371.0 C251.0,372.7 246.5,377.7 246.1,381.0 C245.6,384.3 249.4,387.7 249.2,391.0 C249.1,394.3 245.7,397.7 245.3,401.0 C245.0,404.3 246.6,409.3 246.9,411.0 L245.7,410.0 C245.2,408.5 242.8,404.2 242.8,401.0 C242.9,397.8 246.7,394.3 246.2,391.0 C245.8,387.7 242.2,384.3 240.3,381.0 C238.4,377.7 235.9,372.7 235.0,371.0 Z" fill="#cac4bc" stroke="#6f6a66" stroke-width="0.6"/><path d="M286.0,439.0 C285.4,439.6 282.7,441.5 282.5,442.8 C282.3,444.0 285.0,445.2 285.0,446.5 C285.0,447.8 282.8,449.0 282.5,450.2 C282.2,451.5 282.9,453.4 283.0,454.0 L281.8,453.0 C281.5,452.5 280.0,451.3 280.0,450.2 C280.0,449.2 282.2,447.8 282.0,446.5 C281.8,445.2 279.5,444.0 278.5,442.8 C277.5,441.5 276.4,439.6 276.0,439.0 Z" fill="#cac4bc" stroke="#6f6a66" stroke-width="0.6"/><path d="M138.0,460.0 C137.4,460.6 134.7,462.5 134.5,463.8 C134.3,465.0 137.0,466.2 137.0,467.5 C137.0,468.8 134.8,470.0 134.5,471.2 C134.2,472.5 134.9,474.4 135.0,475.0 L133.8,474.0 C133.5,473.5 132.0,472.3 132.0,471.2 C132.0,470.2 134.2,468.8 134.0,467.5 C133.8,466.2 131.5,465.0 130.5,463.8 C129.5,462.5 128.4,460.6 128.0,460.0 Z" fill="#cac4bc" stroke="#6f6a66" stroke-width="0.6"/><path d="M392.0,417.0 C391.3,417.8 388.1,420.2 387.8,421.8 C387.6,423.3 390.5,424.9 390.5,426.5 C390.5,428.1 388.0,429.7 387.6,431.2 C387.2,432.8 388.3,435.2 388.4,436.0 L387.2,435.0 C386.9,434.4 385.1,432.7 385.1,431.2 C385.2,429.8 387.8,428.1 387.5,426.5 C387.2,424.9 384.6,423.3 383.3,421.8 C382.1,420.2 380.6,417.8 380.0,417.0 Z" fill="#cac4bc" stroke="#6f6a66" stroke-width="0.6"/><path d="M398.0,455.0 C397.2,455.6 393.7,457.5 393.4,458.8 C393.2,460.0 396.3,461.2 396.2,462.5 C396.2,463.8 393.5,465.0 393.1,466.2 C392.8,467.5 393.9,469.4 394.1,470.0 L392.9,469.0 C392.5,468.5 390.6,467.3 390.6,466.2 C390.7,465.2 393.6,463.8 393.2,462.5 C392.9,461.2 390.1,460.0 388.7,458.8 C387.3,457.5 385.6,455.6 385.0,455.0 Z" fill="#cac4bc" stroke="#6f6a66" stroke-width="0.6"/><path d="M991.6,187.0 C990.6,188.4 985.8,192.8 985.3,195.7 C984.8,198.6 988.8,201.5 988.6,204.3 C988.5,207.2 984.9,210.1 984.5,213.0 C984.1,215.9 985.9,220.3 986.2,221.7 L985.0,220.7 C984.5,219.4 981.9,215.7 982.0,213.0 C982.1,210.3 986.1,207.2 985.6,204.3 C985.2,201.5 981.3,198.6 979.4,195.7 C977.4,192.8 974.6,188.4 973.7,187.0 Z" fill="#cac4bc" stroke="#6f6a66" stroke-width="0.6"/><path d="M935.3,224.2 C934.3,225.2 929.9,228.0 929.5,229.9 C929.0,231.9 932.8,233.8 932.6,235.7 C932.5,237.6 929.2,239.5 928.8,241.4 C928.4,243.4 930.1,246.2 930.3,247.2 L929.1,246.2 C928.7,245.4 926.2,243.2 926.3,241.4 C926.4,239.7 930.1,237.6 929.6,235.7 C929.2,233.8 925.7,231.9 923.8,229.9 C922.0,228.0 919.6,225.2 918.7,224.2 Z" fill="#cac4bc" stroke="#6f6a66" stroke-width="0.6"/><path d="M176.0,485.0 C175.4,485.9 172.7,488.5 172.5,490.2 C172.3,492.0 175.0,493.8 175.0,495.5 C175.0,497.2 172.8,499.0 172.5,500.8 C172.2,502.5 172.9,505.1 173.0,506.0 L171.8,505.0 C171.5,504.3 170.0,502.3 170.0,500.8 C170.0,499.2 172.2,497.2 172.0,495.5 C171.8,493.8 169.5,492.0 168.5,490.2 C167.5,488.5 166.4,485.9 166.0,485.0 Z" fill="#cac4bc" stroke="#6f6a66" stroke-width="0.6"/><path d="M253.0,530.0 C252.6,531.4 250.6,535.5 250.6,538.2 C250.5,541.0 252.7,543.8 252.8,546.5 C252.8,549.2 251.2,552.0 250.8,554.8 C250.5,557.5 250.9,561.6 250.9,563.0 L249.7,562.0 C249.5,560.8 248.3,557.3 248.3,554.8 C248.4,552.2 249.9,549.2 249.8,546.5 C249.6,543.8 247.9,541.0 247.3,538.2 C246.7,535.5 246.2,531.4 246.0,530.0 Z" fill="#cac4bc" stroke="#6f6a66" stroke-width="0.6"/><path d="M1014.6,347.0 C1013.3,347.6 1007.3,349.6 1006.6,350.9 C1005.8,352.1 1010.6,353.4 1010.4,354.7 C1010.1,356.0 1005.7,357.3 1005.2,358.5 C1004.8,359.8 1007.3,361.8 1007.7,362.4 L1006.5,361.4 C1005.9,360.9 1002.6,359.7 1002.8,358.5 C1002.9,357.4 1007.9,356.0 1007.4,354.7 C1006.8,353.4 1001.9,352.1 999.3,350.9 C996.7,349.6 992.9,347.6 991.6,347.0 Z" fill="#cac4bc" stroke="#6f6a66" stroke-width="0.6"/><path d="M966.0,365.0 C965.2,365.8 961.7,368.0 961.5,369.5 C961.2,371.0 964.3,372.5 964.2,374.0 C964.2,375.5 961.5,377.0 961.1,378.5 C960.8,380.0 961.9,382.2 962.1,383.0 L960.9,382.0 C960.5,381.4 958.6,379.8 958.6,378.5 C958.7,377.2 961.6,375.5 961.2,374.0 C960.9,372.5 958.1,371.0 956.7,369.5 C955.3,368.0 953.6,365.8 953.0,365.0 Z" fill="#cac4bc" stroke="#6f6a66" stroke-width="0.6"/><path d="M912.3,380.0 C911.9,380.5 909.7,382.2 909.6,383.2 C909.6,384.3 911.9,385.4 911.9,386.5 C911.9,387.6 910.2,388.7 909.9,389.8 C909.6,390.8 910.0,392.5 910.0,393.0 L908.8,392.0 C908.6,391.6 907.4,390.7 907.4,389.8 C907.4,388.8 909.1,387.6 908.9,386.5 C908.7,385.4 906.9,384.3 906.2,383.2 C905.5,382.2 905.0,380.5 904.7,380.0 Z" fill="#cac4bc" stroke="#6f6a66" stroke-width="0.6"/><path d="M1055.4,394.4 C1054.5,395.4 1050.4,398.4 1050.0,400.5 C1049.6,402.5 1053.1,404.5 1053.1,406.5 C1053.0,408.6 1049.8,410.6 1049.5,412.6 C1049.1,414.6 1050.6,417.7 1050.8,418.7 L1049.6,417.7 C1049.1,416.9 1046.9,414.5 1047.0,412.6 C1047.0,410.8 1050.4,408.6 1050.1,406.5 C1049.7,404.5 1046.3,402.5 1044.7,400.5 C1043.0,398.4 1040.8,395.4 1040.0,394.4 Z" fill="#cac4bc" stroke="#6f6a66" stroke-width="0.6"/><path d="M1150.0,331.8 C1148.8,332.9 1143.5,336.1 1142.9,338.2 C1142.3,340.3 1146.6,342.4 1146.4,344.6 C1146.2,346.7 1142.2,348.8 1141.8,350.9 C1141.4,353.1 1143.5,356.2 1143.9,357.3 L1142.7,356.3 C1142.1,355.4 1139.2,352.9 1139.3,350.9 C1139.4,349.0 1143.9,346.7 1143.4,344.6 C1142.9,342.4 1138.6,340.3 1136.3,338.2 C1134.0,336.1 1130.7,332.9 1129.6,331.8 Z" fill="#cac4bc" stroke="#6f6a66" stroke-width="0.6"/><path d="M1119.0,421.0 C1118.4,421.4 1115.7,422.7 1115.5,423.6 C1115.3,424.5 1118.0,425.3 1118.0,426.2 C1118.0,427.1 1115.8,427.9 1115.5,428.8 C1115.2,429.7 1115.9,431.0 1116.0,431.4 L1114.8,430.4 C1114.5,430.1 1113.0,429.5 1113.0,428.8 C1113.0,428.1 1115.2,427.1 1115.0,426.2 C1114.8,425.3 1112.5,424.5 1111.5,423.6 C1110.5,422.7 1109.4,421.4 1109.0,421.0 Z" fill="#cac4bc" stroke="#6f6a66" stroke-width="0.6"/><path d="M945.6,426.3 C944.4,427.2 939.0,429.7 938.4,431.4 C937.8,433.1 942.1,434.8 941.9,436.6 C941.8,438.3 937.8,440.0 937.3,441.7 C936.9,443.4 939.1,445.9 939.4,446.8 L938.2,445.8 C937.7,445.1 934.7,443.2 934.8,441.7 C935.0,440.1 939.5,438.3 938.9,436.6 C938.4,434.8 934.1,433.1 931.7,431.4 C929.4,429.7 926.1,427.2 925.0,426.3 Z" fill="#cac4bc" stroke="#6f6a66" stroke-width="0.6"/><path d="M996.7,429.0 C996.0,430.1 992.5,433.2 992.2,435.4 C991.9,437.5 995.0,439.6 995.0,441.7 C995.0,443.8 992.3,445.9 991.9,448.0 C991.6,450.2 992.7,453.3 992.9,454.4 L991.7,453.4 C991.3,452.5 989.4,450.0 989.4,448.0 C989.5,446.1 992.3,443.8 992.0,441.7 C991.7,439.6 988.9,437.5 987.5,435.4 C986.2,433.2 984.5,430.1 983.9,429.0 Z" fill="#cac4bc" stroke="#6f6a66" stroke-width="0.6"/><path d="M1058.0,464.7 C1057.0,465.1 1052.2,466.4 1051.7,467.3 C1051.2,468.1 1055.1,469.0 1055.0,469.9 C1054.9,470.7 1051.3,471.6 1050.9,472.4 C1050.5,473.3 1052.3,474.6 1052.6,475.0 L1051.4,474.0 C1050.9,473.7 1048.3,473.1 1048.4,472.4 C1048.5,471.7 1052.5,470.7 1052.0,469.9 C1051.5,469.0 1047.7,468.1 1045.7,467.3 C1043.7,466.4 1041.0,465.1 1040.0,464.7 Z" fill="#cac4bc" stroke="#6f6a66" stroke-width="0.6"/><path d="M1101.4,464.7 C1101.0,465.3 1098.8,466.9 1098.7,468.0 C1098.7,469.1 1101.0,470.2 1101.0,471.4 C1101.0,472.5 1099.3,473.6 1099.0,474.7 C1098.7,475.8 1099.1,477.4 1099.1,478.0 L1097.9,477.0 C1097.7,476.6 1096.5,475.6 1096.5,474.7 C1096.5,473.7 1098.2,472.5 1098.0,471.4 C1097.8,470.2 1096.0,469.1 1095.3,468.0 C1094.6,466.9 1094.1,465.3 1093.8,464.7 Z" fill="#cac4bc" stroke="#6f6a66" stroke-width="0.6"/><path d="M1155.0,457.0 C1153.7,457.9 1147.7,460.5 1147.0,462.2 C1146.2,464.0 1151.0,465.8 1150.8,467.5 C1150.5,469.2 1146.1,471.0 1145.7,472.8 C1145.2,474.5 1147.7,477.1 1148.1,478.0 L1146.9,477.0 C1146.3,476.3 1143.0,474.3 1143.2,472.8 C1143.3,471.2 1148.3,469.2 1147.8,467.5 C1147.2,465.8 1142.3,464.0 1139.7,462.2 C1137.1,460.5 1133.3,457.9 1132.0,457.0 Z" fill="#cac4bc" stroke="#6f6a66" stroke-width="0.6"/><path d="M700.0,390.6 C698.7,391.1 692.7,392.7 692.0,393.8 C691.2,394.8 696.0,395.9 695.8,397.0 C695.5,398.0 691.1,399.1 690.6,400.1 C690.2,401.2 692.7,402.8 693.1,403.3 L691.9,402.3 C691.3,401.9 688.0,401.0 688.1,400.1 C688.3,399.2 693.3,398.0 692.8,397.0 C692.2,395.9 687.3,394.8 684.7,393.8 C682.1,392.7 678.3,391.1 677.0,390.6 Z" fill="#cac4bc" stroke="#6f6a66" stroke-width="0.6"/><path d="M730.0,420.0 C729.2,420.8 725.4,423.3 725.1,425.0 C724.8,426.7 728.1,428.3 728.0,430.0 C727.9,431.7 725.1,433.3 724.7,435.0 C724.3,436.7 725.6,439.2 725.8,440.0 L724.6,439.0 C724.2,438.3 722.1,436.5 722.2,435.0 C722.3,433.5 725.4,431.7 725.0,430.0 C724.6,428.3 721.6,426.7 720.1,425.0 C718.6,423.3 716.7,420.8 716.0,420.0 Z" fill="#cac4bc" stroke="#6f6a66" stroke-width="0.6"/><path d="M36.0,478.0 C37.3,478.5 42.0,479.7 44.0,481.0 C46.0,482.3 46.8,484.3 48.0,486.0 C49.2,487.7 50.5,490.2 51.0,491.0" fill="none" stroke="#6f6f6f" stroke-width="3.6" stroke-linecap="round"/><path d="M36.0,478.0 C37.3,478.5 42.0,479.7 44.0,481.0 C46.0,482.3 46.8,484.3 48.0,486.0 C49.2,487.7 50.5,490.2 51.0,491.0" fill="none" stroke="#cac4bc" stroke-width="2.4" stroke-linecap="round"/><path d="M43.0,535.0 C44.5,535.5 49.8,535.8 52.0,538.0 C54.2,540.2 54.3,544.8 56.0,548.0 C57.7,551.2 60.7,554.3 62.0,557.0 C63.3,559.7 63.7,562.8 64.0,564.0" fill="none" stroke="#6f6f6f" stroke-width="3.6" stroke-linecap="round"/><path d="M43.0,535.0 C44.5,535.5 49.8,535.8 52.0,538.0 C54.2,540.2 54.3,544.8 56.0,548.0 C57.7,551.2 60.7,554.3 62.0,557.0 C63.3,559.7 63.7,562.8 64.0,564.0" fill="none" stroke="#cac4bc" stroke-width="2.4" stroke-linecap="round"/><path d="M93.0,535.0 C94.2,535.8 97.5,537.5 100.0,540.0 C102.5,542.5 104.7,547.8 108.0,550.0 C111.3,552.2 115.8,552.8 120.0,553.0 C124.2,553.2 129.2,551.5 133.0,551.0 C136.8,550.5 141.3,550.2 143.0,550.0" fill="none" stroke="#6f6f6f" stroke-width="3.6" stroke-linecap="round"/><path d="M93.0,535.0 C94.2,535.8 97.5,537.5 100.0,540.0 C102.5,542.5 104.7,547.8 108.0,550.0 C111.3,552.2 115.8,552.8 120.0,553.0 C124.2,553.2 129.2,551.5 133.0,551.0 C136.8,550.5 141.3,550.2 143.0,550.0" fill="none" stroke="#cac4bc" stroke-width="2.4" stroke-linecap="round"/><path d="M160.0,533.0 C161.7,533.3 166.7,532.5 170.0,535.0 C173.3,537.5 176.7,544.3 180.0,548.0 C183.3,551.7 186.0,554.7 190.0,557.0 C194.0,559.3 201.7,561.2 204.0,562.0" fill="none" stroke="#6f6f6f" stroke-width="3.6" stroke-linecap="round"/><path d="M160.0,533.0 C161.7,533.3 166.7,532.5 170.0,535.0 C173.3,537.5 176.7,544.3 180.0,548.0 C183.3,551.7 186.0,554.7 190.0,557.0 C194.0,559.3 201.7,561.2 204.0,562.0" fill="none" stroke="#cac4bc" stroke-width="2.4" stroke-linecap="round"/><path d="M300.0,542.0 C298.7,543.7 295.3,548.7 292.0,552.0 C288.7,555.3 282.0,560.3 280.0,562.0" fill="none" stroke="#6f6f6f" stroke-width="3.6" stroke-linecap="round"/><path d="M300.0,542.0 C298.7,543.7 295.3,548.7 292.0,552.0 C288.7,555.3 282.0,560.3 280.0,562.0" fill="none" stroke="#cac4bc" stroke-width="2.4" stroke-linecap="round"/><path d="M652.0,368.0 C653.7,367.0 657.3,363.3 662.0,362.0 C666.7,360.7 675.3,361.7 680.0,360.0 C684.7,358.3 686.3,353.7 690.0,352.0 C693.7,350.3 700.0,350.3 702.0,350.0" fill="none" stroke="#6f6f6f" stroke-width="3.6" stroke-linecap="round"/><path d="M652.0,368.0 C653.7,367.0 657.3,363.3 662.0,362.0 C666.7,360.7 675.3,361.7 680.0,360.0 C684.7,358.3 686.3,353.7 690.0,352.0 C693.7,350.3 700.0,350.3 702.0,350.0" fill="none" stroke="#cac4bc" stroke-width="2.4" stroke-linecap="round"/><path d="M122.0,545.0 L135.0,550.0" fill="none" stroke="#6f6f6f" stroke-width="3.6" stroke-linecap="round"/><path d="M122.0,545.0 L135.0,550.0" fill="none" stroke="#cac4bc" stroke-width="2.4" stroke-linecap="round"/></g><rect x="813.1" y="44" width="4.2" height="252" fill="#111"/><g stroke="#111" stroke-width="1.3" fill="none" stroke-linecap="butt"><path d="M811.8,18.9 L807.8,45.2 M817.1,18.9 L821.1,45.2 M814.45,18.9 V45 M811.2,24.2 H817.7 M808.3,43.9 H820.6 M811.4,25 L817.6,32.8 M817.5,25 L811,32.8 M809.9,34.3 L819.6,41.2"/><path d="M811.6,16 L817.3,16 L819,18.9 L809.9,18.9 Z" fill="#111" stroke-width="0.6"/><path d="M806.6,45.3 H809.2 M819.7,45.3 H822.3" stroke-width="1"/></g><text x="719.6" y="37" font-size="21.5" fill="#111" text-anchor="start" font-weight="normal" textLength="76.3" lengthAdjust="spacingAndGlyphs" stroke="#111" stroke-width="0.35" >Kansas</text><text x="832.2" y="37" font-size="21.5" fill="#111" text-anchor="start" font-weight="normal" textLength="13.5" lengthAdjust="spacingAndGlyphs" stroke="#111" stroke-width="0.35" >H</text><text x="847.5" y="40.5" font-size="14.5" fill="#111" text-anchor="start" font-weight="normal" textLength="8.8" lengthAdjust="spacingAndGlyphs" >2</text><text x="863" y="37" font-size="21.5" fill="#111" text-anchor="start" font-weight="normal" textLength="138.2" lengthAdjust="spacingAndGlyphs" stroke="#111" stroke-width="0.35" >Occurrences</text><g stroke="#555" stroke-width="1"><line x1="5" y1="45.3" x2="27.6" y2="45.3"/><line x1="5" y1="157.8" x2="27.6" y2="157.8"/><line x1="5" y1="369" x2="27.6" y2="369"/><line x1="5" y1="478.5" x2="27.6" y2="478.5"/><line x1="5" y1="497.8" x2="27.6" y2="497.8"/><line x1="5" y1="533.8" x2="27.6" y2="533.8"/><line x1="5" y1="571" x2="27.6" y2="571"/></g><text x="0" y="0" transform="translate(11.8,102.7) rotate(90)" font-size="12.5" fill="#1a1a1a" stroke="#1a1a1a" stroke-width="0.35" text-anchor="middle" textLength="79.5" lengthAdjust="spacingAndGlyphs">CRETACEOUS</text><text x="0" y="0" transform="translate(11.8,262.5) rotate(90)" font-size="12.5" fill="#1a1a1a" stroke="#1a1a1a" stroke-width="0.35" text-anchor="middle" textLength="58" lengthAdjust="spacingAndGlyphs">PERMIAN</text><text x="0" y="0" transform="translate(11.8,422.7) rotate(90)" font-size="12.5" fill="#1a1a1a" stroke="#1a1a1a" stroke-width="0.35" text-anchor="middle" textLength="100" lengthAdjust="spacingAndGlyphs">PENNSYLVANIAN</text><text x="0" y="0" transform="translate(11.8,516) rotate(90)" font-size="12.5" fill="#1a1a1a" stroke="#1a1a1a" stroke-width="0.35" text-anchor="middle" textLength="25" lengthAdjust="spacingAndGlyphs">ORD</text><text x="0" y="0" transform="translate(11.8,552.3) rotate(90)" font-size="12.5" fill="#1a1a1a" stroke="#1a1a1a" stroke-width="0.35" text-anchor="middle" textLength="32" lengthAdjust="spacingAndGlyphs">CAMB</text><text x="0" y="0" transform="translate(11.8,728.7) rotate(90)" font-size="12.5" fill="#1a1a1a" stroke="#1a1a1a" stroke-width="0.35" text-anchor="middle" textLength="90" lengthAdjust="spacingAndGlyphs">PRE CAMBRIAN</text><text transform="translate(14.5,488) rotate(90)" font-size="5" fill="#222" text-anchor="middle">SIL</text><text transform="translate(9,488) rotate(90)" font-size="5" fill="#222" text-anchor="middle">CAMB</text><path d="M27.6,862.5 L120,862.5 L139.3,884.7 L27.6,884.7 Z" fill="#dcebc9" stroke="#999" stroke-width="0.5"/><path d="M120,862.5 L711.6,862.5 L711.6,884.7 L139.3,884.7 Z" fill="#f2d6e3" stroke="#999" stroke-width="0.5"/><rect x="711.6" y="862.5" width="249.3" height="22.2" fill="#f7d8bd" stroke="#999" stroke-width="0.5"/><rect x="960.9" y="862.5" width="207.1" height="22.2" fill="#e9e7a1" stroke="#999" stroke-width="0.5"/><text x="75.5" y="878.5" font-size="11.5" fill="#222" text-anchor="middle" font-weight="normal" textLength="83" lengthAdjust="spacingAndGlyphs" >SALINA BASIN</text><text x="428.6" y="878.5" font-size="11.5" fill="#222" text-anchor="middle" font-weight="normal" textLength="131.7" lengthAdjust="spacingAndGlyphs" >MID CONTINENT RIFT</text><text x="836" y="878.5" font-size="11.5" fill="#222" text-anchor="middle" font-weight="normal" textLength="89" lengthAdjust="spacingAndGlyphs" >NEMAHA HIGH</text><text x="1064.5" y="878.5" font-size="11.5" fill="#222" text-anchor="middle" font-weight="normal" textLength="115" lengthAdjust="spacingAndGlyphs" >FOREST CITY BASIN</text><line x1="27.6" y1="45.3" x2="27.6" y2="862.5" stroke="#9a9a9a" stroke-width="0.7"/><rect x="5" y="7.2" width="1163.4" height="877.5" fill="none" stroke="#555" stroke-width="1.1"/><text x="278" y="63" font-size="10.5" fill="#2a2a2a" text-anchor="middle" font-weight="bold" textLength="101" lengthAdjust="spacingAndGlyphs" >CIRCULAR FEATURES</text><text x="775.8" y="105" font-size="9.5" fill="#2a2a2a" text-anchor="middle" font-weight="bold" textLength="61" lengthAdjust="spacingAndGlyphs" >KIMBERLITES</text><text x="813.8" y="325" font-size="17" fill="#fff" text-anchor="middle" font-weight="normal" textLength="102" lengthAdjust="spacingAndGlyphs" stroke="#fff" stroke-width="3.0500000000000003" stroke-linejoin="round" >HYDROGEN</text><text x="813.8" y="325" font-size="17" fill="#1a1a1a" text-anchor="middle" font-weight="normal" textLength="102" lengthAdjust="spacingAndGlyphs" stroke="#1a1a1a" stroke-width="0.45" >HYDROGEN</text><text x="813.8" y="344.3" font-size="17" fill="#fff" text-anchor="middle" font-weight="normal" textLength="89" lengthAdjust="spacingAndGlyphs" stroke="#fff" stroke-width="3.0500000000000003" stroke-linejoin="round" >SOURCE &amp;</text><text x="813.8" y="344.3" font-size="17" fill="#1a1a1a" text-anchor="middle" font-weight="normal" textLength="89" lengthAdjust="spacingAndGlyphs" stroke="#1a1a1a" stroke-width="0.45" >SOURCE &amp;</text><text x="813.8" y="364.5" font-size="17" fill="#fff" text-anchor="middle" font-weight="normal" textLength="96" lengthAdjust="spacingAndGlyphs" stroke="#fff" stroke-width="3.0500000000000003" stroke-linejoin="round" >RESERVOIR</text><text x="813.8" y="364.5" font-size="17" fill="#1a1a1a" text-anchor="middle" font-weight="normal" textLength="96" lengthAdjust="spacingAndGlyphs" stroke="#1a1a1a" stroke-width="0.45" >RESERVOIR</text><text x="811" y="396.7" font-size="18.5" fill="#111" text-anchor="middle" font-weight="normal" textLength="89.6" lengthAdjust="spacingAndGlyphs" >NEMAHA</text><text x="813.8" y="418.3" font-size="18.5" fill="#111" text-anchor="middle" font-weight="normal" textLength="62" lengthAdjust="spacingAndGlyphs" >RIDGE</text><text x="726.2" y="489" font-size="13.5" fill="#d2323f" text-anchor="middle" font-weight="normal" textLength="72.5" lengthAdjust="spacingAndGlyphs" >HYDROGEN</text><text x="726.2" y="505.8" font-size="13.5" fill="#d2323f" text-anchor="middle" font-weight="normal" textLength="93" lengthAdjust="spacingAndGlyphs" >MIGRATION TO</text><text x="726.2" y="521.1" font-size="13.5" fill="#d2323f" text-anchor="middle" font-weight="normal" textLength="87" lengthAdjust="spacingAndGlyphs" >STRUCTURAL</text><text x="726.2" y="537" font-size="13.5" fill="#d2323f" text-anchor="middle" font-weight="normal" textLength="38.5" lengthAdjust="spacingAndGlyphs" >CREST</text><text x="346.5" y="615.6" font-size="15.5" fill="#fff" text-anchor="middle" font-weight="normal" textLength="90" lengthAdjust="spacingAndGlyphs" stroke="#fff" stroke-width="3.0" stroke-linejoin="round" >RESERVOIR</text><text x="346.5" y="615.6" font-size="15.5" fill="#111" text-anchor="middle" font-weight="normal" textLength="90" lengthAdjust="spacingAndGlyphs" stroke="#111" stroke-width="0.4" >RESERVOIR</text><text x="347.5" y="631" font-size="12.5" fill="#fff" text-anchor="middle" font-weight="normal" textLength="114.5" lengthAdjust="spacingAndGlyphs" stroke="#fff" stroke-width="2.6" stroke-linejoin="round" >(METASEDIMENTS)</text><text x="347.5" y="631" font-size="12.5" fill="#222" text-anchor="middle" font-weight="normal" textLength="114.5" lengthAdjust="spacingAndGlyphs" >(METASEDIMENTS)</text><text x="335.4" y="673" font-size="18.5" fill="#fff" text-anchor="middle" font-weight="normal" textLength="238.8" lengthAdjust="spacingAndGlyphs" stroke="#fff" stroke-width="3.0500000000000003" stroke-linejoin="round" >MID CONTINENT RIFT</text><text x="335.4" y="673" font-size="18.5" fill="#111" text-anchor="middle" font-weight="normal" textLength="238.8" lengthAdjust="spacingAndGlyphs" stroke="#111" stroke-width="0.45" >MID CONTINENT RIFT</text><text x="336" y="707.6" font-size="18.5" fill="#fff" text-anchor="middle" font-weight="normal" textLength="225" lengthAdjust="spacingAndGlyphs" stroke="#fff" stroke-width="3.0500000000000003" stroke-linejoin="round" >HYDROGEN SOURCE</text><text x="336" y="707.6" font-size="18.5" fill="#111" text-anchor="middle" font-weight="normal" textLength="225" lengthAdjust="spacingAndGlyphs" stroke="#111" stroke-width="0.45" >HYDROGEN SOURCE</text><text x="336" y="727" font-size="13" fill="#fff" text-anchor="middle" font-weight="normal" textLength="135" lengthAdjust="spacingAndGlyphs" stroke="#fff" stroke-width="2.6" stroke-linejoin="round" >(SERPENTINIZATION)</text><text x="336" y="727" font-size="13" fill="#222" text-anchor="middle" font-weight="normal" textLength="135" lengthAdjust="spacingAndGlyphs" >(SERPENTINIZATION)</text><text x="403.7" y="821.6" font-size="18.5" fill="#1a1a1a" text-anchor="middle" font-weight="normal" textLength="212" lengthAdjust="spacingAndGlyphs" >HYDROGEN SOURCE</text><text x="403.7" y="840.8" font-size="14" fill="#1a1a1a" text-anchor="middle" font-weight="normal" textLength="171" lengthAdjust="spacingAndGlyphs" >(MANTLE DEGASSING)</text><text x="980.7" y="826.7" font-size="18.5" fill="#1a1a1a" text-anchor="middle" font-weight="normal" textLength="83" lengthAdjust="spacingAndGlyphs" >MANTLE</text><text transform="translate(729.5,361) rotate(-68)" x="0" y="0" font-size="14" fill="#111" stroke="#111" stroke-width="0.45" text-anchor="middle" textLength="48" lengthAdjust="spacingAndGlyphs">FAULT</text><text transform="translate(898.5,384.5) rotate(66)" x="0" y="0" font-size="14" fill="#111" stroke="#111" stroke-width="0.45" text-anchor="middle" textLength="48" lengthAdjust="spacingAndGlyphs">FAULT</text><text transform="translate(247.5,628) rotate(40)" x="0" y="0" font-size="14" fill="#111" stroke="#111" stroke-width="0.45" text-anchor="middle" textLength="48" lengthAdjust="spacingAndGlyphs">FAULT</text><text transform="translate(169.5,683) rotate(37)" x="0" y="0" font-size="14" fill="#111" stroke="#111" stroke-width="0.45" text-anchor="middle" textLength="48" lengthAdjust="spacingAndGlyphs">FAULT</text><text transform="translate(571,573) rotate(-52)" x="0" y="0" font-size="14" fill="#111" stroke="#111" stroke-width="0.45" text-anchor="middle" textLength="48" lengthAdjust="spacingAndGlyphs">FAULT</text><path d="M744.6,106.2 C745.9,108.1 750.0,111.8 752.4,117.4 C754.8,123.0 757.2,132.3 759.1,139.8 C761.0,147.3 762.7,157.1 763.6,162.3 C764.5,167.5 764.9,168.6 764.8,171.2 C764.7,173.8 763.2,175.0 763.2,178.0 C763.2,181.0 764.2,182.5 764.8,189.2 C765.4,195.9 766.3,207.8 767.0,218.3 C767.7,228.8 768.3,241.9 769.2,252.0 C770.1,262.1 771.7,273.6 772.6,278.9 C773.5,284.2 774.2,283.1 774.5,284.0 L776.3,281.0 C776.2,276.2 775.9,261.7 776.0,252.0 C776.1,242.3 776.7,229.5 777.1,222.8 C777.5,216.1 777.7,216.1 778.2,211.6 C778.8,207.1 779.8,202.2 780.4,195.9 C781.0,189.6 781.2,179.8 782.0,173.5 C782.8,167.2 783.5,164.2 784.9,157.8 C786.3,151.5 788.4,142.1 790.5,135.4 C792.6,128.7 794.7,122.1 797.3,117.4 C799.9,112.7 804.7,109.0 806.2,107.3 C800,107 780,105.5 760,107 Z" fill="url(#kimb)" stroke="#9a7040" stroke-width="0.6"/><g transform="translate(826.0,98.8) rotate(4.2) scale(0.772)"><path d="M0.0,0.0 C-0.9,-0.8 -4.1,-3.2 -5.3,-4.9 C-6.5,-6.6 -7.4,-8.5 -6.9,-10.2 C-6.4,-11.8 -4.6,-13.3 -2.4,-14.8 C-0.2,-16.3 5.2,-17.5 6.4,-19.3 C7.6,-21.1 6.1,-23.4 4.5,-25.5 C2.9,-27.6 -1.6,-29.3 -3.0,-31.6 C-4.4,-33.9 -4.2,-36.8 -4.0,-39.1 C-3.8,-41.4 -2.2,-44.2 -1.9,-45.2" fill="none" stroke="#d8263a" stroke-width="3.63"/><path d="M0.0,-53.5 L-6.2,-43.0 L4.8,-41.5 Z" fill="#d8263a"/></g><g transform="translate(773.0,178.5) rotate(2.7) scale(1.005)"><path d="M0.0,0.0 C-0.9,-0.8 -4.1,-3.2 -5.3,-4.9 C-6.5,-6.6 -7.4,-8.5 -6.9,-10.2 C-6.4,-11.8 -4.6,-13.3 -2.4,-14.8 C-0.2,-16.3 5.2,-17.5 6.4,-19.3 C7.6,-21.1 6.1,-23.4 4.5,-25.5 C2.9,-27.6 -1.6,-29.3 -3.0,-31.6 C-4.4,-33.9 -4.2,-36.8 -4.0,-39.1 C-3.8,-41.4 -2.2,-44.2 -1.9,-45.2" fill="none" stroke="#d8263a" stroke-width="2.79"/><path d="M0.0,-53.5 L-6.2,-43.0 L4.8,-41.5 Z" fill="#d8263a"/></g><g transform="translate(831.1,222.7) rotate(-2.4) scale(0.757)"><path d="M0.0,0.0 C-0.9,-0.8 -4.1,-3.2 -5.3,-4.9 C-6.5,-6.6 -7.4,-8.5 -6.9,-10.2 C-6.4,-11.8 -4.6,-13.3 -2.4,-14.8 C-0.2,-16.3 5.2,-17.5 6.4,-19.3 C7.6,-21.1 6.1,-23.4 4.5,-25.5 C2.9,-27.6 -1.6,-29.3 -3.0,-31.6 C-4.4,-33.9 -4.2,-36.8 -4.0,-39.1 C-3.8,-41.4 -2.2,-44.2 -1.9,-45.2" fill="none" stroke="#d8263a" stroke-width="3.70"/><path d="M0.0,-53.5 L-6.2,-43.0 L4.8,-41.5 Z" fill="#d8263a"/></g><g transform="translate(792.0,307.0) rotate(2.9) scale(0.756)"><path d="M0.0,0.0 C0.9,-0.8 4.1,-3.2 5.3,-4.9 C6.5,-6.6 7.4,-8.5 6.9,-10.2 C6.4,-11.8 4.6,-13.3 2.4,-14.8 C0.2,-16.3 -5.2,-17.5 -6.4,-19.3 C-7.6,-21.1 -6.1,-23.4 -4.5,-25.5 C-2.9,-27.6 1.6,-29.3 3.0,-31.6 C4.4,-33.9 4.2,-36.8 4.0,-39.1 C3.8,-41.4 2.2,-44.2 1.9,-45.2" fill="none" stroke="#d8263a" stroke-width="3.71"/><path d="M0.0,-53.5 L6.2,-43.0 L-4.8,-41.5 Z" fill="#d8263a"/></g><g transform="translate(735.0,374.0) rotate(26.6) scale(0.717)"><path d="M0.0,0.0 C0.9,-0.8 4.1,-3.2 5.3,-4.9 C6.5,-6.6 7.4,-8.5 6.9,-10.2 C6.4,-11.8 4.6,-13.3 2.4,-14.8 C0.2,-16.3 -5.2,-17.5 -6.4,-19.3 C-7.6,-21.1 -6.1,-23.4 -4.5,-25.5 C-2.9,-27.6 1.6,-29.3 3.0,-31.6 C4.4,-33.9 4.2,-36.8 4.0,-39.1 C3.8,-41.4 2.2,-44.2 1.9,-45.2" fill="none" stroke="#d8263a" stroke-width="3.90"/><path d="M0.0,-53.5 L6.2,-43.0 L-4.8,-41.5 Z" fill="#d8263a"/></g><g transform="translate(214.7,585.2) rotate(2.1) scale(0.763)"><path d="M0.0,0.0 C0.9,-0.8 4.1,-3.2 5.3,-4.9 C6.5,-6.6 7.4,-8.5 6.9,-10.2 C6.4,-11.8 4.6,-13.3 2.4,-14.8 C0.2,-16.3 -5.2,-17.5 -6.4,-19.3 C-7.6,-21.1 -6.1,-23.4 -4.5,-25.5 C-2.9,-27.6 1.6,-29.3 3.0,-31.6 C4.4,-33.9 4.2,-36.8 4.0,-39.1 C3.8,-41.4 2.2,-44.2 1.9,-45.2" fill="none" stroke="#d8263a" stroke-width="3.67"/><path d="M0.0,-53.5 L6.2,-43.0 L-4.8,-41.5 Z" fill="#d8263a"/></g><g transform="translate(99.3,668.9) rotate(-44.7) scale(1.001)"><path d="M0.0,0.0 C0.9,-0.8 4.1,-3.2 5.3,-4.9 C6.5,-6.6 7.4,-8.5 6.9,-10.2 C6.4,-11.8 4.6,-13.3 2.4,-14.8 C0.2,-16.3 -5.2,-17.5 -6.4,-19.3 C-7.6,-21.1 -6.1,-23.4 -4.5,-25.5 C-2.9,-27.6 1.6,-29.3 3.0,-31.6 C4.4,-33.9 4.2,-36.8 4.0,-39.1 C3.8,-41.4 2.2,-44.2 1.9,-45.2" fill="none" stroke="#d8263a" stroke-width="2.80"/><path d="M0.0,-53.5 L6.2,-43.0 L-4.8,-41.5 Z" fill="#d8263a"/></g><g transform="translate(217.0,754.0) rotate(-44.7) scale(1.019)"><path d="M0.0,0.0 C0.9,-0.8 4.1,-3.2 5.3,-4.9 C6.5,-6.6 7.4,-8.5 6.9,-10.2 C6.4,-11.8 4.6,-13.3 2.4,-14.8 C0.2,-16.3 -5.2,-17.5 -6.4,-19.3 C-7.6,-21.1 -6.1,-23.4 -4.5,-25.5 C-2.9,-27.6 1.6,-29.3 3.0,-31.6 C4.4,-33.9 4.2,-36.8 4.0,-39.1 C3.8,-41.4 2.2,-44.2 1.9,-45.2" fill="none" stroke="#d8263a" stroke-width="2.75"/><path d="M0.0,-53.5 L6.2,-43.0 L-4.8,-41.5 Z" fill="#d8263a"/></g><g transform="translate(217.8,644.5) rotate(-46.3) scale(0.997)"><path d="M0.0,0.0 C0.9,-0.8 4.1,-3.2 5.3,-4.9 C6.5,-6.6 7.4,-8.5 6.9,-10.2 C6.4,-11.8 4.6,-13.3 2.4,-14.8 C0.2,-16.3 -5.2,-17.5 -6.4,-19.3 C-7.6,-21.1 -6.1,-23.4 -4.5,-25.5 C-2.9,-27.6 1.6,-29.3 3.0,-31.6 C4.4,-33.9 4.2,-36.8 4.0,-39.1 C3.8,-41.4 2.2,-44.2 1.9,-45.2" fill="none" stroke="#d8263a" stroke-width="2.81"/><path d="M0.0,-53.5 L6.2,-43.0 L-4.8,-41.5 Z" fill="#d8263a"/></g><g transform="translate(258.0,672.0) rotate(-40.7) scale(0.888)"><path d="M0.0,0.0 C0.9,-0.8 4.1,-3.2 5.3,-4.9 C6.5,-6.6 7.4,-8.5 6.9,-10.2 C6.4,-11.8 4.6,-13.3 2.4,-14.8 C0.2,-16.3 -5.2,-17.5 -6.4,-19.3 C-7.6,-21.1 -6.1,-23.4 -4.5,-25.5 C-2.9,-27.6 1.6,-29.3 3.0,-31.6 C4.4,-33.9 4.2,-36.8 4.0,-39.1 C3.8,-41.4 2.2,-44.2 1.9,-45.2" fill="none" stroke="#d8263a" stroke-width="3.15"/><path d="M0.0,-53.5 L6.2,-43.0 L-4.8,-41.5 Z" fill="#d8263a"/></g><g transform="translate(438.0,633.8) rotate(33.7) scale(0.975)"><path d="M0.0,0.0 C-0.9,-0.8 -4.1,-3.2 -5.3,-4.9 C-6.5,-6.6 -7.4,-8.5 -6.9,-10.2 C-6.4,-11.8 -4.6,-13.3 -2.4,-14.8 C-0.2,-16.3 5.2,-17.5 6.4,-19.3 C7.6,-21.1 6.1,-23.4 4.5,-25.5 C2.9,-27.6 -1.6,-29.3 -3.0,-31.6 C-4.4,-33.9 -4.2,-36.8 -4.0,-39.1 C-3.8,-41.4 -2.2,-44.2 -1.9,-45.2" fill="none" stroke="#d8263a" stroke-width="2.87"/><path d="M0.0,-53.5 L-6.2,-43.0 L4.8,-41.5 Z" fill="#d8263a"/></g><g transform="translate(520.5,585.4) rotate(34.8) scale(0.949)"><path d="M0.0,0.0 C-0.9,-0.8 -4.1,-3.2 -5.3,-4.9 C-6.5,-6.6 -7.4,-8.5 -6.9,-10.2 C-6.4,-11.8 -4.6,-13.3 -2.4,-14.8 C-0.2,-16.3 5.2,-17.5 6.4,-19.3 C7.6,-21.1 6.1,-23.4 4.5,-25.5 C2.9,-27.6 -1.6,-29.3 -3.0,-31.6 C-4.4,-33.9 -4.2,-36.8 -4.0,-39.1 C-3.8,-41.4 -2.2,-44.2 -1.9,-45.2" fill="none" stroke="#d8263a" stroke-width="2.95"/><path d="M0.0,-53.5 L-6.2,-43.0 L4.8,-41.5 Z" fill="#d8263a"/></g><g transform="translate(529.5,639.2) rotate(34.8) scale(0.949)"><path d="M0.0,0.0 C-0.9,-0.8 -4.1,-3.2 -5.3,-4.9 C-6.5,-6.6 -7.4,-8.5 -6.9,-10.2 C-6.4,-11.8 -4.6,-13.3 -2.4,-14.8 C-0.2,-16.3 5.2,-17.5 6.4,-19.3 C7.6,-21.1 6.1,-23.4 4.5,-25.5 C2.9,-27.6 -1.6,-29.3 -3.0,-31.6 C-4.4,-33.9 -4.2,-36.8 -4.0,-39.1 C-3.8,-41.4 -2.2,-44.2 -1.9,-45.2" fill="none" stroke="#d8263a" stroke-width="2.95"/><path d="M0.0,-53.5 L-6.2,-43.0 L4.8,-41.5 Z" fill="#d8263a"/></g><g transform="translate(490.0,684.1) rotate(34.8) scale(0.949)"><path d="M0.0,0.0 C-0.9,-0.8 -4.1,-3.2 -5.3,-4.9 C-6.5,-6.6 -7.4,-8.5 -6.9,-10.2 C-6.4,-11.8 -4.6,-13.3 -2.4,-14.8 C-0.2,-16.3 5.2,-17.5 6.4,-19.3 C7.6,-21.1 6.1,-23.4 4.5,-25.5 C2.9,-27.6 -1.6,-29.3 -3.0,-31.6 C-4.4,-33.9 -4.2,-36.8 -4.0,-39.1 C-3.8,-41.4 -2.2,-44.2 -1.9,-45.2" fill="none" stroke="#d8263a" stroke-width="2.95"/><path d="M0.0,-53.5 L-6.2,-43.0 L4.8,-41.5 Z" fill="#d8263a"/></g><g transform="translate(446.9,743.3) rotate(33.7) scale(0.977)"><path d="M0.0,0.0 C-0.9,-0.8 -4.1,-3.2 -5.3,-4.9 C-6.5,-6.6 -7.4,-8.5 -6.9,-10.2 C-6.4,-11.8 -4.6,-13.3 -2.4,-14.8 C-0.2,-16.3 5.2,-17.5 6.4,-19.3 C7.6,-21.1 6.1,-23.4 4.5,-25.5 C2.9,-27.6 -1.6,-29.3 -3.0,-31.6 C-4.4,-33.9 -4.2,-36.8 -4.0,-39.1 C-3.8,-41.4 -2.2,-44.2 -1.9,-45.2" fill="none" stroke="#d8263a" stroke-width="2.87"/><path d="M0.0,-53.5 L-6.2,-43.0 L4.8,-41.5 Z" fill="#d8263a"/></g><g transform="translate(482.8,727.1) rotate(33.7) scale(0.975)"><path d="M0.0,0.0 C-0.9,-0.8 -4.1,-3.2 -5.3,-4.9 C-6.5,-6.6 -7.4,-8.5 -6.9,-10.2 C-6.4,-11.8 -4.6,-13.3 -2.4,-14.8 C-0.2,-16.3 5.2,-17.5 6.4,-19.3 C7.6,-21.1 6.1,-23.4 4.5,-25.5 C2.9,-27.6 -1.6,-29.3 -3.0,-31.6 C-4.4,-33.9 -4.2,-36.8 -4.0,-39.1 C-3.8,-41.4 -2.2,-44.2 -1.9,-45.2" fill="none" stroke="#d8263a" stroke-width="2.87"/><path d="M0.0,-53.5 L-6.2,-43.0 L4.8,-41.5 Z" fill="#d8263a"/></g><g transform="translate(567.2,610.5) rotate(33.7) scale(0.977)"><path d="M0.0,0.0 C-0.9,-0.8 -4.1,-3.2 -5.3,-4.9 C-6.5,-6.6 -7.4,-8.5 -6.9,-10.2 C-6.4,-11.8 -4.6,-13.3 -2.4,-14.8 C-0.2,-16.3 5.2,-17.5 6.4,-19.3 C7.6,-21.1 6.1,-23.4 4.5,-25.5 C2.9,-27.6 -1.6,-29.3 -3.0,-31.6 C-4.4,-33.9 -4.2,-36.8 -4.0,-39.1 C-3.8,-41.4 -2.2,-44.2 -1.9,-45.2" fill="none" stroke="#d8263a" stroke-width="2.87"/><path d="M0.0,-53.5 L-6.2,-43.0 L4.8,-41.5 Z" fill="#d8263a"/></g><g transform="translate(603.4,552.9) rotate(32.0) scale(0.997)"><path d="M0.0,0.0 C-0.9,-0.8 -4.1,-3.2 -5.3,-4.9 C-6.5,-6.6 -7.4,-8.5 -6.9,-10.2 C-6.4,-11.8 -4.6,-13.3 -2.4,-14.8 C-0.2,-16.3 5.2,-17.5 6.4,-19.3 C7.6,-21.1 6.1,-23.4 4.5,-25.5 C2.9,-27.6 -1.6,-29.3 -3.0,-31.6 C-4.4,-33.9 -4.2,-36.8 -4.0,-39.1 C-3.8,-41.4 -2.2,-44.2 -1.9,-45.2" fill="none" stroke="#d8263a" stroke-width="2.81"/><path d="M0.0,-53.5 L-6.2,-43.0 L4.8,-41.5 Z" fill="#d8263a"/></g><g transform="translate(635.4,533.3) rotate(33.6) scale(0.974)"><path d="M0.0,0.0 C-0.9,-0.8 -4.1,-3.2 -5.3,-4.9 C-6.5,-6.6 -7.4,-8.5 -6.9,-10.2 C-6.4,-11.8 -4.6,-13.3 -2.4,-14.8 C-0.2,-16.3 5.2,-17.5 6.4,-19.3 C7.6,-21.1 6.1,-23.4 4.5,-25.5 C2.9,-27.6 -1.6,-29.3 -3.0,-31.6 C-4.4,-33.9 -4.2,-36.8 -4.0,-39.1 C-3.8,-41.4 -2.2,-44.2 -1.9,-45.2" fill="none" stroke="#d8263a" stroke-width="2.87"/><path d="M0.0,-53.5 L-6.2,-43.0 L4.8,-41.5 Z" fill="#d8263a"/></g><g transform="translate(686.0,460.0) rotate(24.1) scale(0.600)"><path d="M0.0,0.0 C-0.9,-0.8 -4.1,-3.2 -5.3,-4.9 C-6.5,-6.6 -7.4,-8.5 -6.9,-10.2 C-6.4,-11.8 -4.6,-13.3 -2.4,-14.8 C-0.2,-16.3 5.2,-17.5 6.4,-19.3 C7.6,-21.1 6.1,-23.4 4.5,-25.5 C2.9,-27.6 -1.6,-29.3 -3.0,-31.6 C-4.4,-33.9 -4.2,-36.8 -4.0,-39.1 C-3.8,-41.4 -2.2,-44.2 -1.9,-45.2" fill="none" stroke="#d8263a" stroke-width="4.67"/><path d="M0.0,-53.5 L-6.2,-43.0 L4.8,-41.5 Z" fill="#d8263a"/></g><rect x="1068.2" y="660.6" width="93.3" height="81.8" fill="none" stroke="#e0a0a0" stroke-width="0.8"/><g transform="translate(1116.9,713.8) rotate(0.5) scale(0.811)"><path d="M0.0,0.0 C-0.9,-0.8 -4.1,-3.2 -5.3,-4.9 C-6.5,-6.6 -7.4,-8.5 -6.9,-10.2 C-6.4,-11.8 -4.6,-13.3 -2.4,-14.8 C-0.2,-16.3 5.2,-17.5 6.4,-19.3 C7.6,-21.1 6.1,-23.4 4.5,-25.5 C2.9,-27.6 -1.6,-29.3 -3.0,-31.6 C-4.4,-33.9 -4.2,-36.8 -4.0,-39.1 C-3.8,-41.4 -2.2,-44.2 -1.9,-45.2" fill="none" stroke="#d8263a" stroke-width="2.83"/><path d="M0.0,-53.5 L-6.2,-43.0 L4.8,-41.5 Z" fill="#d8263a"/></g><text x="1114.2" y="734" font-size="12.5" fill="#d2323f" text-anchor="middle" textLength="74" lengthAdjust="spacingAndGlyphs">HYDROGEN</text><linearGradient id="logog" gradientUnits="userSpaceOnUse" x1="0" y1="588" x2="0" y2="631"><stop offset="0" stop-color="#f4b04c"/><stop offset="0.45" stop-color="#b8c880"/><stop offset="1" stop-color="#3cb09a"/></linearGradient><g fill="none" stroke="url(#logog)" stroke-width="1.9" stroke-linecap="round"><path d="M1103.0,589.0 C1094.1,593.5 1089.6,601.5 1089.6,609.6 C1089.6,618.6 1095.9,626.6 1104.8,630.2"/><path d="M1118.3,588.5 C1128.2,592.6 1134.0,600.6 1134.0,609.6 C1134.0,618.6 1128.2,626.6 1118.3,629.8"/><path d="M1093.2,601.5 C1098.6,609.6 1118.3,608.7 1125.5,599.7 C1128.2,596.1 1124.6,590.8 1118.3,588.5"/><path d="M1103.0,589.0 L1101.7,605.1"/><path d="M1118.3,588.5 L1120.5,600.2"/><path d="M1098.6,624.8 C1100.4,614.1 1122.8,606.9 1130.0,618.6"/><path d="M1102.6,618.6 L1104.8,630.2"/><path d="M1121.0,613.6 L1118.3,629.3"/></g><text x="1111.4" y="647.7" font-size="13.8" fill="#48ae9f" stroke="#48ae9f" stroke-width="0.5" text-anchor="middle" textLength="88.3" lengthAdjust="spacing">HYTERRA</text></svg>
</body></html>
